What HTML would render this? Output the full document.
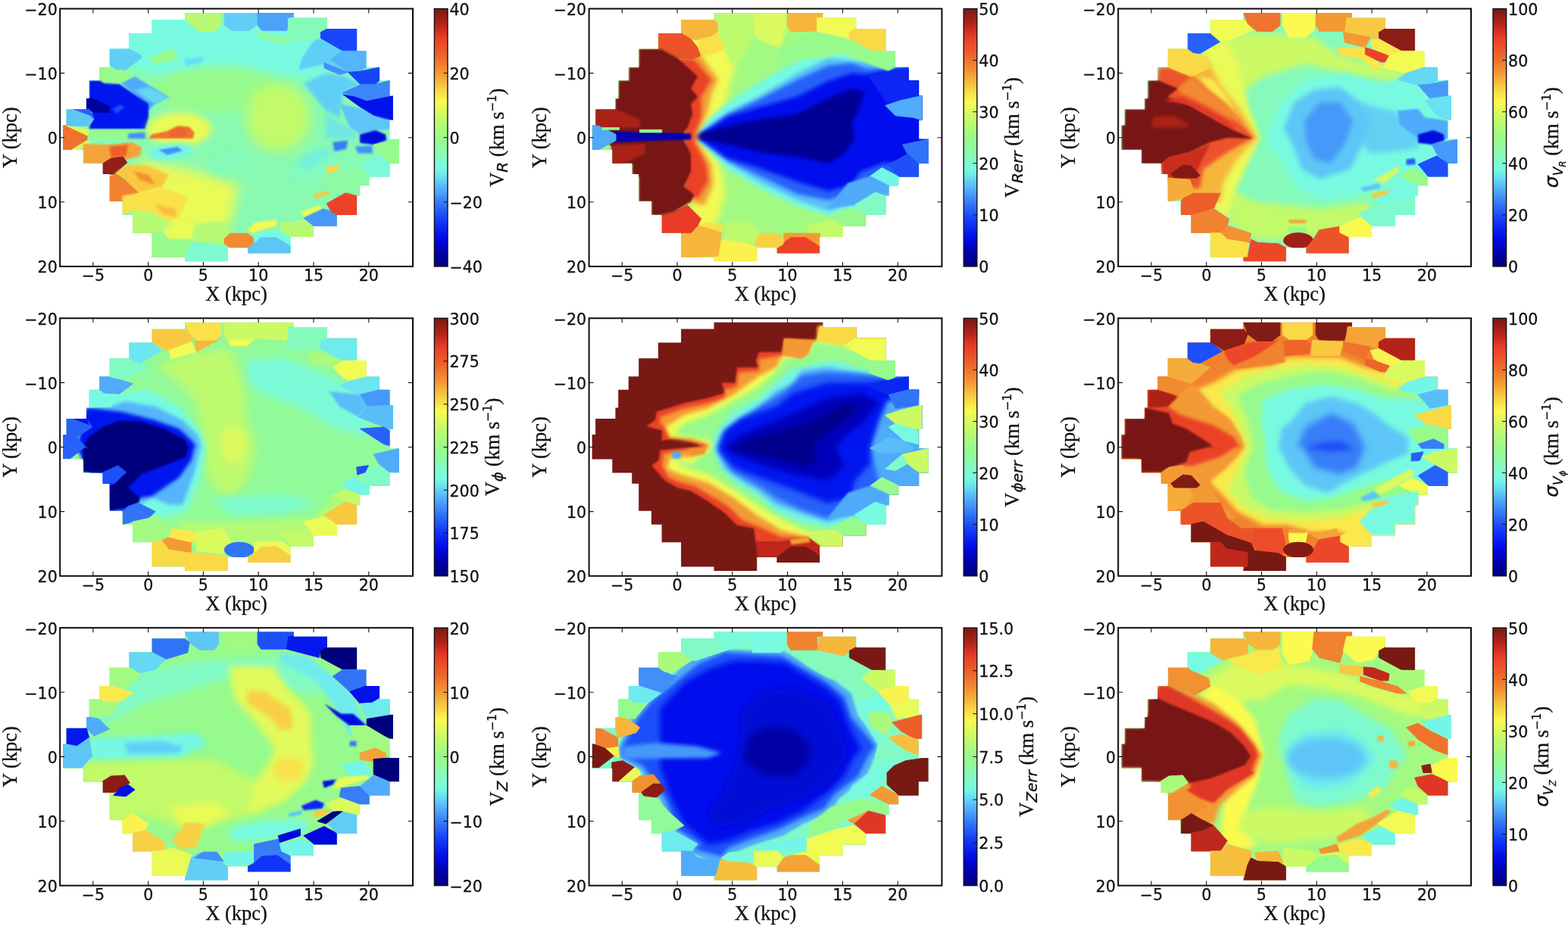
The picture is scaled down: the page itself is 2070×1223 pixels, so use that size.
<!DOCTYPE html>
<html lang="en"><head><meta charset="utf-8"><title>Velocity maps</title>
<style>
html,body{margin:0;padding:0;background:#fff}
body{width:2070px;height:1223px;overflow:hidden}
svg{display:block}
.t{font-family:"DejaVu Sans","Liberation Sans",sans-serif;font-size:20.6px;fill:#111;stroke:#111;stroke-width:0.3px}
.s{font-family:"Liberation Serif","DejaVu Serif",serif;font-size:26.5px;fill:#111;stroke:#111;stroke-width:0.3px}
.sub{font-family:"DejaVu Sans","Liberation Sans",sans-serif;font-style:italic;font-size:20px}
.sup{font-family:"DejaVu Sans","Liberation Sans",sans-serif;font-size:15px}
.sig{font-family:"DejaVu Sans","Liberation Sans",sans-serif;font-style:italic;font-size:25px}
.subv{font-family:"DejaVu Sans","Liberation Sans",sans-serif;font-style:italic;font-size:17px}
.subsub{font-family:"DejaVu Sans","Liberation Sans",sans-serif;font-style:italic;font-size:12px}
</style></head><body>
<svg width="2070" height="1223" viewBox="0 0 2070 1223">
<defs><linearGradient id="jet" x1="0" y1="0" x2="0" y2="1"><stop offset="0%" stop-color="#781914"/><stop offset="2%" stop-color="#8c1c16"/><stop offset="4%" stop-color="#a02017"/><stop offset="6%" stop-color="#b42319"/><stop offset="8%" stop-color="#ca2d1f"/><stop offset="10%" stop-color="#e03725"/><stop offset="12%" stop-color="#eb4228"/><stop offset="14%" stop-color="#ec4d29"/><stop offset="16%" stop-color="#ed5929"/><stop offset="18%" stop-color="#ee642a"/><stop offset="20%" stop-color="#ef732d"/><stop offset="22%" stop-color="#f1822f"/><stop offset="24%" stop-color="#f29132"/><stop offset="26%" stop-color="#f4a337"/><stop offset="28%" stop-color="#f6b63c"/><stop offset="30%" stop-color="#f8c841"/><stop offset="32%" stop-color="#f9d946"/><stop offset="34%" stop-color="#f9e94b"/><stop offset="36%" stop-color="#fafa50"/><stop offset="38%" stop-color="#eafa57"/><stop offset="40%" stop-color="#dbfa5e"/><stop offset="42%" stop-color="#cbfa65"/><stop offset="44%" stop-color="#bdfa6e"/><stop offset="46%" stop-color="#b2fa77"/><stop offset="48%" stop-color="#a6fa81"/><stop offset="50%" stop-color="#9bfa8a"/><stop offset="52%" stop-color="#95fa95"/><stop offset="54%" stop-color="#8ffaa0"/><stop offset="56%" stop-color="#88fab2"/><stop offset="58%" stop-color="#82fac3"/><stop offset="60%" stop-color="#7efad2"/><stop offset="62%" stop-color="#79fae0"/><stop offset="64%" stop-color="#70ecea"/><stop offset="66%" stop-color="#66daf3"/><stop offset="68%" stop-color="#5cc4f6"/><stop offset="70%" stop-color="#52affa"/><stop offset="72%" stop-color="#479bf9"/><stop offset="74%" stop-color="#3c87f8"/><stop offset="76%" stop-color="#3274f8"/><stop offset="78%" stop-color="#2861f9"/><stop offset="80%" stop-color="#1e4ff9"/><stop offset="82%" stop-color="#143cfa"/><stop offset="84%" stop-color="#0e2ef6"/><stop offset="86%" stop-color="#091ff1"/><stop offset="88%" stop-color="#0311ed"/><stop offset="90%" stop-color="#0008df"/><stop offset="92%" stop-color="#0005c8"/><stop offset="94%" stop-color="#0002b1"/><stop offset="96%" stop-color="#00009d"/><stop offset="98%" stop-color="#00008d"/><stop offset="100%" stop-color="#00007d"/></linearGradient><filter id="b0_8" x="-100%" y="-100%" width="300%" height="300%"><feGaussianBlur stdDeviation="0.8"/></filter><filter id="b1" x="-100%" y="-100%" width="300%" height="300%"><feGaussianBlur stdDeviation="1"/></filter><filter id="b1_2" x="-100%" y="-100%" width="300%" height="300%"><feGaussianBlur stdDeviation="1.2"/></filter><filter id="b1_5" x="-100%" y="-100%" width="300%" height="300%"><feGaussianBlur stdDeviation="1.5"/></filter><filter id="b2" x="-100%" y="-100%" width="300%" height="300%"><feGaussianBlur stdDeviation="2"/></filter><filter id="b2_5" x="-100%" y="-100%" width="300%" height="300%"><feGaussianBlur stdDeviation="2.5"/></filter><filter id="b3" x="-100%" y="-100%" width="300%" height="300%"><feGaussianBlur stdDeviation="3"/></filter><filter id="b4" x="-100%" y="-100%" width="300%" height="300%"><feGaussianBlur stdDeviation="4"/></filter><filter id="b5" x="-100%" y="-100%" width="300%" height="300%"><feGaussianBlur stdDeviation="5"/></filter><filter id="b6" x="-100%" y="-100%" width="300%" height="300%"><feGaussianBlur stdDeviation="6"/></filter><filter id="b8" x="-100%" y="-100%" width="300%" height="300%"><feGaussianBlur stdDeviation="8"/></filter></defs>
<rect width="2070" height="1223" fill="#fff"/>
<g>
<clipPath id="c0"><polygon points="83.1,165.3 87.6,165.3 87.6,144.3 113.9,144.3 113.9,129.9 117.7,129.9 117.7,106.2 131.2,106.2 131.2,88.7 144.7,88.7 144.7,64.6 170.4,64.6 170.4,43.9 200.6,43.9 200.6,25.9 244,25.9 244,17.1 387.9,17.1 387.9,23.6 432,23.6 432,38 471.2,38 471.2,67.3 483.5,67.3 483.5,88.7 501.1,88.7 501.1,106.2 514.6,106.2 514.6,126.5 518.9,126.5 518.9,158.5 514.6,158.5 514.6,183.7 527,183.7 527,215.9 514.6,215.9 514.6,233.5 487.6,233.5 487.6,245.2 475.2,245.2 475.2,258.7 471.2,258.7 471.2,284.1 444.8,284.1 444.8,298.7 414,298.7 414,313.1 383.6,313.1 383.6,334.5 327.1,334.5 327.1,327.3 300.8,327.3 300.8,345.3 244,345.3 244,339.9 200.6,339.9 200.6,307.7 175.1,307.7 175.1,284.1 161.4,284.1 161.4,266.1 144.7,266.1 144.7,230.1 135.7,230.1 135.7,215.9 109.8,215.9 109.8,197.9 83.1,197.9"/></clipPath>
<g clip-path="url(#c0)" stroke-width="0.9" stroke-linejoin="round">
<polygon points="80,12 545,12 545,352 80,352" fill="#88fab2" stroke="#88fab2"/>
<polygon points="169,24.5 439.2,24.5 461.7,78.5 416.7,105.6 304.1,85.3 214.1,101 146.5,78.5" fill="#78fae1" filter="url(#b5)"/>
<ellipse cx="281.6" cy="119.1" rx="85.5" ry="29.3" fill="#96fa8c" filter="url(#b6)"/>
<ellipse cx="367.2" cy="155.1" rx="42.8" ry="45" fill="#c3fa69" filter="url(#b8)"/>
<polygon points="244,17.1 291.7,17.1 291.7,34.6 282.7,41.4 263.6,41.4 250.1,32.4 244,25.9" fill="#b6fa73" stroke="#b6fa73"/>
<polygon points="296.2,17.1 340.1,17.1 340.1,32.4 328.9,40.3 306.4,40.3 296.2,33.5" fill="#61cff5" stroke="#61cff5"/>
<polygon points="340.1,17.1 387.9,17.1 387.9,23.6 379.5,23.6 379.5,40.3 345.8,40.3 340.1,33.5" fill="#4ba2f9" stroke="#4ba2f9"/>
<polygon points="382.9,23.6 432,23.6 432,38 421.2,51.5 394.2,53.8 378.4,49.3 379.5,40.3" fill="#85fabb" stroke="#85fabb"/>
<polygon points="335.6,40.3 378.4,49.3 394.2,53.8 371.7,58.3 344.6,51.5" fill="#8dfaa5" filter="url(#b1)"/>
<polygon points="200.6,25.9 244,25.9 250.1,32.4 247.8,44.8 218.6,56 200.6,47" fill="#78fae1" stroke="#78fae1"/>
<polygon points="170.4,43.9 200.6,43.9 218.6,56 205.1,69.5 184.8,71.8 170.4,64.6" fill="#78fae1" stroke="#78fae1"/>
<polygon points="144.7,64.6 170.4,64.6 184.8,71.8 187.1,76.3 164.5,93.2 153.3,92 144.7,85.3" fill="#61cff5" stroke="#61cff5"/>
<polygon points="131.2,88.7 144.7,88.7 153.3,92 164.5,93.2 175.8,101 157.8,111.2 137.5,110.1 131.2,105.6" fill="#96fa8c" stroke="#96fa8c"/>
<polygon points="196.1,76.3 227.6,63.9 236.6,78.5 205.1,85.3" fill="#96fa8c" filter="url(#b1_5)"/>
<polygon points="243.3,77.4 270.4,75.2 265.9,83 245.6,87.5" fill="#69e1f2" filter="url(#b1)"/>
<polygon points="414.4,53.8 423.4,50.4 452.7,67.3 483.5,67.3 483.5,88.7 466.2,96.5 427.9,85.3 394.2,92 398.7,76.3" fill="#61cff5" filter="url(#b1)"/>
<polygon points="432,38 471.2,38 471.2,67.3 452.7,67.3 423.4,50.4 423.4,42.5" fill="#1945fa" stroke="#1945fa"/>
<polygon points="436.9,78.5 452.7,67.3 483.5,67.3 483.5,88.7 475.2,94.3 459.5,95.4" fill="#55b4fa" stroke="#55b4fa"/>
<polygon points="427.9,83 459.5,95.4 448.2,98.8 427.9,89.8" fill="#418ff9" stroke="#418ff9"/>
<polygon points="459.5,95.4 475.2,94.3 501.1,88.7 501.1,106.2 495.5,111.2 475.2,111.2" fill="#1945fa" stroke="#1945fa"/>
<polygon points="400.9,110.1 430.2,96.5 457.2,101 475.2,112.3 452.7,123.6 448.2,155.1 430.2,146.1" fill="#61cff5" filter="url(#b2)"/>
<polygon points="452.7,122.4 475.2,112.3 495.5,111.2 514.6,106.2 514.6,126.5 484.2,133.7 468.5,128.1" fill="#3c86f8" stroke="#3c86f8"/>
<polygon points="452.7,124.7 468.5,128.1 484.2,133.7 518.9,126.5 518.9,158.5 506.7,157.3 493.2,152.8 477.5,142.7" fill="#0311ed" stroke="#0311ed"/>
<polygon points="448.2,137.1 477.5,143.8 493.2,152.8 514.6,158.5 514.6,170.8 495.5,172 475.2,176.5 461.7,168.6" fill="#5dc6f7" filter="url(#b1)"/>
<polygon points="430.2,150.6 461.7,168.6 475.2,183 430.2,183" fill="#69e1f2" filter="url(#b3)" opacity="0.8"/>
<polygon points="160,110.1 178.1,101 196.1,112.3 223.1,128.1 205.1,137.1 196.1,146.1 182.6,128.1" fill="#50abfa" filter="url(#b1)"/>
<polygon points="117.7,106.2 131.2,106.2 137.5,110.1 157.8,111.2 182.6,128.1 196.1,137.1 196.1,155.1 191.6,170.8 117.7,170.8 121.8,146.1 113.9,129.9 117.7,129.9" fill="#0618ef" filter="url(#b0_8)"/>
<polygon points="113.9,129.9 121.8,129.9 144.3,140.4 144.3,148.3 124,148.3 113.9,143.8" fill="#00009d" stroke="#00009d"/>
<polygon points="148.8,143.8 157.8,138.2 164.5,141.6 153.3,150.6" fill="#1e4ff9" filter="url(#b1)"/>
<polygon points="87.6,144.3 97,144.3 117.7,151.7 124,157.3 117.7,166.3 87.6,166.3" fill="#5dc6f7" stroke="#5dc6f7"/>
<polygon points="97,144.3 117.7,144.3 124,155.1 117.7,151.7" fill="#2861f9" stroke="#2861f9"/>
<polygon points="178.1,119.1 196.1,114.6 223.1,128.1 205.1,137.1 196.1,132.6" fill="#69e1f2" filter="url(#b1_5)" opacity="0.8"/>
<polygon points="117.7,170.8 191.6,170.8 193.8,183 117.7,183" fill="#96fa8c" filter="url(#b1)"/>
<polygon points="169,176.5 191.6,174.2 192.7,183 169,183" fill="#418ff9" filter="url(#b1_5)"/>
<ellipse cx="236.6" cy="170.8" rx="42.8" ry="22.5" fill="#eafa57" filter="url(#b5)"/>
<polygon points="196.1,183 200.6,177.6 220.8,173.1 234.3,166.3 250.1,167.5 256.8,175.3 254.6,183" fill="#ef732d" filter="url(#b1_2)"/>
<polygon points="223.1,174.2 236.6,168.6 247.8,170.8 245.6,179.8 225.3,181" fill="#ee642a" filter="url(#b1)"/>
<polygon points="83.1,165.2 88,166.3 115,178.7 115,185.5 92.5,199 83.1,199" fill="#ef732d" stroke="#ef732d"/>
<polygon points="88,166.3 117.7,171.3 117.7,176.5 115,178.7" fill="#dbfa5e" stroke="#dbfa5e"/>
<polygon points="115,185.5 117.7,186.6 117.7,191.1 101.5,199 92.5,199" fill="#dbfa5e" stroke="#dbfa5e"/>
<polygon points="475.2,177.6 495.5,172 509,177.6 510.1,185.5 493.2,191.1 475.2,188.8" fill="#0008df" filter="url(#b0_8)"/>
<polygon points="187.1,210.3 259.1,226 315.4,244 304.1,298.1 236.6,307.1 187.1,289.1 169,248.5" fill="#eafa57" filter="url(#b8)"/>
<ellipse cx="304.1" cy="214.8" rx="29.3" ry="15.8" transform="rotate(-20 304.1 214.8)" fill="#85fabb" filter="url(#b5)" opacity="0.8"/>
<ellipse cx="416.7" cy="221.5" rx="33.8" ry="13.5" transform="rotate(-20 416.7 221.5)" fill="#82fac5" filter="url(#b5)" opacity="0.8"/>
<ellipse cx="225.3" cy="200.1" rx="29.3" ry="10.1" transform="rotate(-8 225.3 200.1)" fill="#73f5e8" filter="url(#b3)"/>
<polygon points="209.6,197.9 234.3,194.1 241.1,199 220.8,204.6" fill="#418ff9" filter="url(#b1_2)"/>
<polygon points="109.8,190 146.5,191.1 173.6,187.8 187.1,194.5 184.8,205.8 169,210.3 135.3,215.9 109.8,215.9" fill="#f4a337" filter="url(#b0_8)"/>
<polygon points="144.3,193.4 169,191.1 166.8,205.8 146.5,208" fill="#ee5e2a" filter="url(#b1_5)"/>
<polygon points="135.7,215.9 146.5,209.1 162.3,206.9 167.9,214.8 151,230.1 135.7,230.1" fill="#961e16" stroke="#961e16"/>
<polygon points="151,229.4 169,217 196.1,219.3 223.1,230.5 214.1,246.3 182.6,255.3 164.5,237.3" fill="#f8c841" filter="url(#b1_5)"/>
<polygon points="175.8,226 196.1,230.5 205.1,244 184.8,237.3" fill="#f29132" filter="url(#b1_5)"/>
<polygon points="144.7,233.9 153.3,229.4 164.5,237.3 182.6,254.2 162.3,266.1 144.7,266.1" fill="#f1822f" stroke="#f1822f"/>
<polygon points="161.4,258.7 187.1,254.2 214.1,248.5 247.8,259.8 236.6,286.8 223.1,292.4 200.6,280.1 175.1,277.8 161.4,284.1" fill="#f9e148" filter="url(#b1)"/>
<polygon points="205.1,269.9 232.1,275.6 232.1,286.8 214.1,282.3" fill="#f7bf3e" filter="url(#b1_5)"/>
<polygon points="175.1,280.1 200.6,280.1 223.1,293.6 209.6,307.1 200.6,307.7 175.1,307.7" fill="#b6fa73" stroke="#b6fa73"/>
<polygon points="214.1,304.8 236.6,293.6 263.6,293.6 254.6,316.1 223.1,316.1" fill="#eafa57" filter="url(#b1_5)"/>
<polygon points="200.6,307.7 209.6,307.1 223.1,316.1 252.3,318.3 252.3,339.9 200.6,339.9" fill="#96fa8c" stroke="#96fa8c"/>
<polygon points="244,339.9 252.3,320.6 296.2,325.1 300.7,329.6 300.7,345.3 244,345.3" fill="#7eface" stroke="#7eface"/>
<polygon points="256.8,295.8 295.1,293.6 304.1,307.1 296.2,322.8 252.3,318.3" fill="#b6fa73" filter="url(#b1)"/>
<polygon points="296.2,314.9 304.1,308.2 326.6,308.2 335.6,314.9 334.5,322.8 326.6,327.3 304.1,327.3 296.2,321.7" fill="#f18a31" stroke="#f18a31"/>
<polygon points="335.6,313.8 344.6,307.1 371.7,304.8 383.6,313.8 383.6,325.1 364.9,313.8 344.6,313.8 335.6,322.8" fill="#78fae1" stroke="#78fae1"/>
<polygon points="327.1,327.3 335.6,321.7 344.6,313.8 364.9,313.8 383.6,325.1 383.6,334.5 327.1,334.5" fill="#5dc6f7" stroke="#5dc6f7"/>
<polygon points="326.6,302.6 337.9,293.6 364.9,290.2 366,298.1 344.6,303.7 333.4,308.2" fill="#f2fa54" filter="url(#b1)"/>
<polygon points="369.4,294.7 400.9,291.3 414,298.1 414,313.1 383.6,313.1 371.7,304.8" fill="#b6fa73" stroke="#b6fa73"/>
<polygon points="400.9,287.9 425.7,275.6 436.9,278.9 444.8,284.6 444.8,298.7 414.4,298.7" fill="#4699f9" stroke="#4699f9"/>
<polygon points="396.4,280.1 421.2,271 425.7,275.6 400.9,286.8" fill="#eafa57" filter="url(#b1)"/>
<polygon points="431.3,268.8 457.2,254.2 471.2,258.7 471.2,284.1 444.8,284.1 436.9,278.9" fill="#eb4228" stroke="#eb4228"/>
<polygon points="414.4,256.4 436.9,251.2 434.7,256.4 415.6,262.5" fill="#f8c841" filter="url(#b1)"/>
<polygon points="430.2,220.4 448.2,218.1 446,226 432.4,230.1" fill="#f9d946" filter="url(#b1_5)"/>
<polygon points="493.2,191.1 527,183.7 527,215.9 514.6,215.9 500,203.5" fill="#96fa8c" stroke="#96fa8c"/>
<polygon points="475.2,217 500,203.5 514.6,215.9 514.6,233.5 487.6,233.5" fill="#7bfad8" stroke="#7bfad8"/>
<polygon points="416.7,235 475.2,219.3 487.6,233.5 487.6,245.2 475.2,245.2 475.2,258.7 457.2,254.2 436.9,250.8" fill="#8dfaa5" filter="url(#b1)"/>
<polygon points="439.2,187.8 459.5,185.5 457.2,196.8 441.4,200.1" fill="#377df8" filter="url(#b1_5)"/>
<polygon points="468.5,193.4 491,192.3 492.1,202.4 473,202.4" fill="#418ff9" filter="url(#b1_5)"/>
<polygon points="389.7,217 405.4,203.5 430.2,194.5 439.2,203.5 405.4,223.8" fill="#6eebed" filter="url(#b3)" opacity="0.7"/>
</g>
<path d="M122.9 351.9v-6M122.9 11.5v6M195.7 351.9v-6M195.7 11.5v6M268.4 351.9v-6M268.4 11.5v6M341.2 351.9v-6M341.2 11.5v6M414 351.9v-6M414 11.5v6M486.8 351.9v-6M486.8 11.5v6M79.2 96.6h6M545 96.6h-6M79.2 181.7h6M545 181.7h-6M79.2 266.8h6M545 266.8h-6" stroke="#111" stroke-width="1.1" fill="none"/>
<rect x="79.2" y="11.5" width="465.8" height="340.4" fill="none" stroke="#0a0a0a" stroke-width="2"/>
<text class="t" x="122.9" y="371.2" text-anchor="middle">−5</text>
<text class="t" x="195.7" y="371.2" text-anchor="middle">0</text>
<text class="t" x="268.4" y="371.2" text-anchor="middle">5</text>
<text class="t" x="341.2" y="371.2" text-anchor="middle">10</text>
<text class="t" x="414" y="371.2" text-anchor="middle">15</text>
<text class="t" x="486.8" y="371.2" text-anchor="middle">20</text>
<text class="t" x="75.8" y="20" text-anchor="end">−20</text>
<text class="t" x="75.8" y="105.1" text-anchor="end">−10</text>
<text class="t" x="75.8" y="190.2" text-anchor="end">0</text>
<text class="t" x="75.8" y="275.3" text-anchor="end">10</text>
<text class="t" x="75.8" y="360.4" text-anchor="end">20</text>
<text class="s" x="312.1" y="397.4" text-anchor="middle">X (kpc)</text>
<text class="s" transform="translate(22.2 181.7) rotate(-90)" text-anchor="middle">Y (kpc)</text>
<rect x="573.4" y="11.5" width="17.6" height="340.4" fill="url(#jet)" stroke="#111" stroke-width="1.4"/>
<text class="t" x="593.5" y="19.8">40</text>
<text class="t" x="593.5" y="104.9">20</text>
<text class="t" x="593.5" y="190">0</text>
<text class="t" x="593.5" y="275.1">−20</text>
<text class="t" x="593.5" y="360.2">−40</text>
<path d="M591 96.6h-5.5M591 181.7h-5.5M591 266.8h-5.5" stroke="#111" stroke-width="1" fill="none"/>
<text class="s" transform="translate(664.7 181.7) rotate(-90)" text-anchor="middle">V<tspan class="sub" dy="5">R</tspan><tspan dy="-5"> (km s</tspan><tspan class="sup" dy="-10">−1</tspan><tspan dy="10">)</tspan></text>
</g>
<g>
<clipPath id="c1"><polygon points="781.6,165.3 786.1,165.3 786.1,144.3 812.4,144.3 812.4,129.9 816.2,129.9 816.2,106.2 829.7,106.2 829.7,88.7 843.2,88.7 843.2,64.6 868.9,64.6 868.9,43.9 899.1,43.9 899.1,25.9 942.5,25.9 942.5,17.1 1086.4,17.1 1086.4,23.6 1130.5,23.6 1130.5,38 1169.7,38 1169.7,67.3 1182,67.3 1182,88.7 1199.6,88.7 1199.6,106.2 1213.1,106.2 1213.1,126.5 1217.4,126.5 1217.4,158.5 1213.1,158.5 1213.1,183.7 1225.5,183.7 1225.5,215.9 1213.1,215.9 1213.1,233.5 1186.1,233.5 1186.1,245.2 1173.7,245.2 1173.7,258.7 1169.7,258.7 1169.7,284.1 1143.3,284.1 1143.3,298.7 1112.5,298.7 1112.5,313.1 1082.1,313.1 1082.1,334.5 1025.6,334.5 1025.6,327.3 999.3,327.3 999.3,345.3 942.5,345.3 942.5,339.9 899.1,339.9 899.1,307.7 873.6,307.7 873.6,284.1 859.9,284.1 859.9,266.1 843.2,266.1 843.2,230.1 834.2,230.1 834.2,215.9 808.3,215.9 808.3,197.9 781.6,197.9"/></clipPath>
<g clip-path="url(#c1)" stroke-width="0.9" stroke-linejoin="round">
<polygon points="777,12 1244,12 1244,352 777,352" fill="#a3fa82" stroke="#a3fa82"/>
<polygon points="912.1,44.8 952.6,42.5 970.6,85.3 957.1,137.1 939.1,168.6 939.1,190 952.6,226 957.1,257.5 948.1,289 934.6,307 912.1,307 912.1,168.6" fill="#f2fa54" filter="url(#b4)"/>
<polygon points="993.1,17.1 1038.1,17.1 1038.1,40.3 1029.1,62.8 1002.1,53.8 995.4,44.8" fill="#dbfa5e" filter="url(#b1_5)"/>
<polygon points="942.9,17.1 993.1,17.1 995.4,44.8 979.6,78.5 963.9,85.3 957.1,65 947.4,42.5" fill="#bdfa6e" filter="url(#b1_5)"/>
<polygon points="911.8,180.6 940.4,152 960.9,135.6 1001.8,109.1 1052.9,78.4 1093.8,70.2 1144.9,72.3 1226.7,72.3 1226.7,284.9 1114.2,276.7 1093.8,284.9 1052.9,272.6 1001.8,248.1 960.9,223.6 930.2,194.9" fill="#76f8e4" filter="url(#b2_5)"/>
<polygon points="915.9,180.6 960.9,147.9 1001.8,127.5 1052.9,96.8 1093.8,76.4 1124.5,80.4 1226.7,80.4 1226.7,264.5 1171.5,256.3 1124.5,268.5 1093.8,278.8 1052.9,264.5 1001.8,239.9 960.9,215.4" fill="#59bdf8" filter="url(#b2_5)"/>
<polygon points="920,180.6 960.9,151 1001.8,131.6 1052.9,105 1093.8,86.6 1124.5,83.5 1144.9,90.7 1226.7,90.7 1226.7,244 1144.9,244 1124.5,256.3 1093.8,264.5 1052.9,256.3 1001.8,231.7 960.9,212.3" fill="#2861f9" filter="url(#b2_5)"/>
<polygon points="920,180.6 960.9,154.1 1001.8,141.8 1052.9,127.5 1093.8,107 1124.5,96.8 1144.9,98.8 1175.6,90.7 1226.7,89.6 1226.7,215.4 1165.3,215.4 1134.7,227.7 1124.5,244 1093.8,252.2 1052.9,239.9 1001.8,221.5 960.9,209.3" fill="#0311ed" filter="url(#b2_5)"/>
<polygon points="817.8,178.2 920,177.6 960.9,166.3 1001.8,158.1 1052.9,150 1093.8,129.5 1124.5,117.2 1140.8,121.3 1134.7,141.8 1124.5,162.2 1128.5,182.7 1114.2,203.1 1093.8,215.4 1052.9,207.2 1001.8,201.1 960.9,190.9 920,182.7 817.8,183.1" fill="#000095" filter="url(#b2_5)"/>
<polygon points="1039.3,17.1 1086.1,17.1 1086.1,23.6 1078.7,23.6 1078.7,41.4 1043.8,41.4 1039.3,33.5" fill="#f6b63c" stroke="#f6b63c"/>
<polygon points="1078.7,23.6 1129.5,23.6 1129.5,38 1121.4,42.5 1121.4,51.5 1078.7,41.4" fill="#f2fa54" stroke="#f2fa54"/>
<polygon points="1121.4,42.5 1129.5,38 1168.7,38 1168.7,67.3 1150.7,67.3 1121.4,51.5" fill="#f9d946" stroke="#f9d946"/>
<polygon points="1103.4,67.3 1121.4,52.6 1150.7,67.3 1182.2,67.3 1182.2,88.7 1173.2,94.3 1146.2,84.2" fill="#96fa8c" filter="url(#b1)"/>
<polygon points="1031.4,62.8 1074.2,42.5 1121.4,52.6 1103.4,67.3 1096.7,75.2 1058.4,77.4 1024.6,94.3" fill="#96fa8c" filter="url(#b2)"/>
<polygon points="899.2,25.9 942.9,25.9 947.4,31.3 947.4,42.5 939.1,48.1 921.1,52.6 912.1,51.5 899.2,43.9" fill="#f6b63c" stroke="#f6b63c"/>
<polygon points="921.1,52.6 939.1,48.1 947.4,42.5 957.1,65 934.6,74 924.5,71.8" fill="#f9e148" filter="url(#b1)"/>
<polygon points="1146.2,101 1173.2,94.3 1199.8,88.7 1199.8,106.2 1212.2,106.2 1212.2,128.1 1171,137.1" fill="#0b27f4" filter="url(#b1)"/>
<polygon points="1168.7,139.3 1189,132.6 1216.9,126.5 1216.9,158.5 1204.7,155.1 1182.2,152.8" fill="#50abfa" stroke="#50abfa"/>
<polygon points="1191.2,191.1 1226.1,183.7 1226.1,215.9 1212.2,215.9 1198,203.5" fill="#3274f8" stroke="#3274f8"/>
<polygon points="1173.2,217 1198,203.5 1212.2,215.9 1212.2,233.4 1186.7,233.4" fill="#1e4ff9" stroke="#1e4ff9"/>
<polygon points="1148.5,232.7 1164.2,221.5 1186.7,233.4 1186.7,245.1 1173.2,245.1" fill="#73f5e8" stroke="#73f5e8"/>
<polygon points="1119.2,241.8 1148.5,232.7 1173.2,245.1 1173.2,258.6 1155.2,254.1 1128.2,271 1092.2,275.5" fill="#50abfa" filter="url(#b1)"/>
<polygon points="1128.2,271 1155.2,254.1 1168.7,258.6 1168.7,284.1 1142.8,284.1" fill="#82fac5" stroke="#82fac5"/>
<polygon points="1098.9,286.8 1125.9,274.4 1142.8,284.5 1142.8,298.7 1112.9,298.7" fill="#96fa8c" stroke="#96fa8c"/>
<polygon points="1065.2,298 1096.7,290.2 1112.9,298 1112.9,313.1 1082.5,313.1 1067.4,307" fill="#c3fa69" stroke="#c3fa69"/>
<polygon points="1034.8,308.2 1082.5,308.2 1082.5,326.2 1064,313.8 1043.8,313.8 1034.8,320.5" fill="#f39a34" stroke="#f39a34"/>
<polygon points="1025.8,327.3 1033.6,321.7 1043.8,313.8 1064,313.8 1082.5,326.2 1082.5,334.5 1025.8,334.5" fill="#eb4228" stroke="#eb4228"/>
<polygon points="995.4,314.9 1003.2,308.2 1025.8,308.2 1034.8,314.9 1033.6,322.8 1025.8,327.3 1003.2,327.3 995.4,321.7" fill="#f8d044" stroke="#f8d044"/>
<polygon points="942.9,339.9 950.3,320.5 957.1,316 988.6,321.7 999.9,327.3 999.9,345.3 942.9,345.3" fill="#faf24e" stroke="#faf24e"/>
<polygon points="957.1,293.5 993.1,293.5 1002.1,307 995.4,322.8 957.1,316" fill="#bdfa6e" filter="url(#b1)"/>
<polygon points="921.1,298 934.6,293.5 957.1,298 952.6,307 950.3,320.5" fill="#f9e148" filter="url(#b1)"/>
<polygon points="899.2,307.7 912.1,307.7 921.1,298 952.6,307 948.1,338.6 899.2,339.9" fill="#f6b63c" stroke="#f6b63c"/>
<polygon points="903.1,78.5 921.1,67.3 948.1,105.6 939.1,123.6 934.6,146.1 921.1,177.6 921.1,187.7 939.1,217 941.3,244 930.1,271 912.1,266.5 912.1,146.1 921.1,123.6" fill="#f39a34" filter="url(#b3)"/>
<polygon points="894.1,76.3 916.6,78.5 939.1,105.6 925.6,128.1 925.6,155.1 916.6,177.6 916.6,187.7 932.3,217 934.6,239.5 921.1,262 903.1,255.3 903.1,146.1" fill="#eb4228" filter="url(#b2_5)"/>
<polygon points="869.3,43.9 899.2,43.9 912.1,51.5 921.1,62.8 924.5,74 912.1,78.5 894.1,76.3 873.8,65 869.3,64.6" fill="#ed5329" stroke="#ed5329"/>
<polygon points="873.8,284.1 889.6,280 907.6,271 925.6,289 921.1,298 912.1,307.7 873.8,307.7" fill="#eb3c28" stroke="#eb3c28"/>
<polygon points="786.2,144.3 812.3,144.3 812.3,129.9 816.8,129.9 816.8,106.2 830.4,106.2 830.4,88.7 843.6,88.7 843.6,64.6 869.3,64.6 873.8,65 894.1,76.3 921.1,101 912.1,116.8 921.1,128.1 912.1,137.1 914.3,150.6 907.6,168.6 903.1,174.2 903.1,185.5 912.1,203.5 912.1,226 903.1,246.3 916.6,257.5 912.1,266.5 889.6,280 873.8,284.1 860.3,284.1 860.3,266.1 843.6,266.1 843.6,233.9 834.9,230 834.9,215.9 807.8,215.9 807.8,194.5 786.2,168.6" fill="#781914" filter="url(#b1)"/>
<polygon points="786.2,144.3 812.3,144.3 844.5,157.3 844.5,168.6 786.2,168.6" fill="#aa2118" filter="url(#b1_5)"/>
<polygon points="807.8,192.2 851.3,190 851.3,203.5 822,215.9 807.8,215.9" fill="#aa2118" filter="url(#b1_5)"/>
<polygon points="810.8,173.5 912.1,176.5 912.1,184.3 810.8,187.7" fill="#0002b1" filter="url(#b1)"/>
<polygon points="782,165.2 790.5,166.3 813,177.6 813,185.5 790.5,197.9 782,197.9" fill="#50abfa" stroke="#50abfa"/>
<polygon points="795,168.6 817.5,168.6 817.5,171.3 795,171.3" fill="#96fa8c" stroke="#96fa8c"/>
<polygon points="844.5,171.3 873.8,171.3 873.8,174.9 844.5,174.9" fill="#96fa8c" stroke="#96fa8c"/>
</g>
<path d="M821.3 351.9v-6M821.3 11.5v6M894.1 351.9v-6M894.1 11.5v6M966.8 351.9v-6M966.8 11.5v6M1039.6 351.9v-6M1039.6 11.5v6M1112.4 351.9v-6M1112.4 11.5v6M1185.2 351.9v-6M1185.2 11.5v6M777.6 96.6h6M1243.4 96.6h-6M777.6 181.7h6M1243.4 181.7h-6M777.6 266.8h6M1243.4 266.8h-6" stroke="#111" stroke-width="1.1" fill="none"/>
<rect x="777.6" y="11.5" width="465.8" height="340.4" fill="none" stroke="#0a0a0a" stroke-width="2"/>
<text class="t" x="821.3" y="371.2" text-anchor="middle">−5</text>
<text class="t" x="894.1" y="371.2" text-anchor="middle">0</text>
<text class="t" x="966.8" y="371.2" text-anchor="middle">5</text>
<text class="t" x="1039.6" y="371.2" text-anchor="middle">10</text>
<text class="t" x="1112.4" y="371.2" text-anchor="middle">15</text>
<text class="t" x="1185.2" y="371.2" text-anchor="middle">20</text>
<text class="t" x="774.2" y="20" text-anchor="end">−20</text>
<text class="t" x="774.2" y="105.1" text-anchor="end">−10</text>
<text class="t" x="774.2" y="190.2" text-anchor="end">0</text>
<text class="t" x="774.2" y="275.3" text-anchor="end">10</text>
<text class="t" x="774.2" y="360.4" text-anchor="end">20</text>
<text class="s" x="1010.5" y="397.4" text-anchor="middle">X (kpc)</text>
<text class="s" transform="translate(720.6 181.7) rotate(-90)" text-anchor="middle">Y (kpc)</text>
<rect x="1272.2" y="11.5" width="17.6" height="340.4" fill="url(#jet)" stroke="#111" stroke-width="1.4"/>
<text class="t" x="1292.3" y="19.8">50</text>
<text class="t" x="1292.3" y="87.9">40</text>
<text class="t" x="1292.3" y="156">30</text>
<text class="t" x="1292.3" y="224">20</text>
<text class="t" x="1292.3" y="292.1">10</text>
<text class="t" x="1292.3" y="360.2">0</text>
<path d="M1289.8 79.6h-5.5M1289.8 147.7h-5.5M1289.8 215.7h-5.5M1289.8 283.8h-5.5" stroke="#111" stroke-width="1" fill="none"/>
<text class="s" transform="translate(1345.2 181.7) rotate(-90)" text-anchor="middle">V<tspan class="sub" dy="5">Rerr</tspan><tspan dy="-5"> (km s</tspan><tspan class="sup" dy="-10">−1</tspan><tspan dy="10">)</tspan></text>
</g>
<g>
<clipPath id="c2"><polygon points="1480.1,165.3 1484.6,165.3 1484.6,144.3 1510.9,144.3 1510.9,129.9 1514.7,129.9 1514.7,106.2 1528.2,106.2 1528.2,88.7 1541.7,88.7 1541.7,64.6 1567.4,64.6 1567.4,43.9 1597.6,43.9 1597.6,25.9 1641,25.9 1641,17.1 1784.9,17.1 1784.9,23.6 1829,23.6 1829,38 1868.2,38 1868.2,67.3 1880.5,67.3 1880.5,88.7 1898.1,88.7 1898.1,106.2 1911.6,106.2 1911.6,126.5 1915.9,126.5 1915.9,158.5 1911.6,158.5 1911.6,183.7 1924,183.7 1924,215.9 1911.6,215.9 1911.6,233.5 1884.6,233.5 1884.6,245.2 1872.2,245.2 1872.2,258.7 1868.2,258.7 1868.2,284.1 1841.8,284.1 1841.8,298.7 1811,298.7 1811,313.1 1780.6,313.1 1780.6,334.5 1724.1,334.5 1724.1,327.3 1697.8,327.3 1697.8,345.3 1641,345.3 1641,339.9 1597.6,339.9 1597.6,307.7 1572.1,307.7 1572.1,284.1 1558.4,284.1 1558.4,266.1 1541.7,266.1 1541.7,230.1 1532.7,230.1 1532.7,215.9 1506.8,215.9 1506.8,197.9 1480.1,197.9"/></clipPath>
<g clip-path="url(#c2)" stroke-width="0.9" stroke-linejoin="round">
<polygon points="1476,12 1943,12 1943,352 1476,352" fill="#85fabb" stroke="#85fabb"/>
<polygon points="1584.1,56 1656.1,42.5 1734.9,49.3 1768.7,74 1822.7,89.8 1858.7,96.5 1845.2,107.8 1791.2,98.8 1723.6,85.3 1667.4,101 1633.6,128.1 1602.1,112.3" fill="#cbfa65" filter="url(#b4)"/>
<polygon points="1622.3,248.5 1656.1,266.5 1701.1,271 1746.1,275.5 1802.4,266.5 1813.7,282.3 1768.7,307 1701.1,316 1656.1,316 1622.3,293.5" fill="#c3fa69" filter="url(#b4)"/>
<polygon points="1588.6,62.8 1620.1,56 1633.6,85.3 1647.1,137.1 1664,183 1664,181 1642.6,226 1629.1,255.3 1620.1,289 1602.1,275.5 1611.1,183 1588.6,123.6" fill="#eafa57" filter="url(#b3)"/>
<polygon points="1674.4,175.9 1691.3,135.3 1725.1,104.8 1775.8,98.1 1826.5,111.6 1860.4,98.1 1928,98.1 1928,243.5 1809.6,243.5 1792.7,257 1742,263.8 1708.2,243.5 1694.7,216.4 1674.4,189.4" fill="#78fae1" filter="url(#b3)"/>
<polygon points="1694.7,169.1 1708.2,135.3 1735.2,118.4 1769.1,115 1796.1,135.3 1809.6,162.3 1796.1,196.1 1782.6,223.2 1742,236.7 1718.3,223.2 1708.2,196.1" fill="#5dc6f7" filter="url(#b3)"/>
<polygon points="1721.7,158.9 1742,135.3 1769.1,135.3 1786,158.9 1775.8,189.4 1755.5,216.4 1735.2,209.7 1725.1,189.4" fill="#4699f9" filter="url(#b3)"/>
<polygon points="1796.1,135.3 1843.5,148.8 1877.3,175.9 1870.5,196.1 1809.6,202.9 1796.1,189.4" fill="#5dc6f7" filter="url(#b3)" opacity="0.8"/>
<polygon points="1543.5,78.5 1593.1,76.3 1611.1,112.3 1638.1,146.1 1660.6,183 1660.6,181 1633.6,210.2 1615.6,239.5 1611.1,266.5 1575.1,271 1543.5,248.5 1521,183" fill="#f6b63c" filter="url(#b3)"/>
<polygon points="1529.4,88.7 1542.6,88.7 1572.8,101 1593.1,116.8 1611.1,132.6 1633.6,157.3 1656.1,183 1656.1,181 1620.1,201.2 1588.6,223.7 1584.1,248.5 1543.5,248.5 1521,183" fill="#ed5329" filter="url(#b2_5)"/>
<polygon points="1584.1,101 1602.1,105.6 1620.1,128.1 1633.6,155.1 1611.1,132.6 1593.1,116.8" fill="#f9e94b" filter="url(#b2)"/>
<polygon points="1541.7,64.6 1567.4,64.6 1575.1,69.5 1593.1,76.3 1597.6,89.8 1572.8,101 1542.6,88.7" fill="#f9d946" stroke="#f9d946"/>
<polygon points="1568.3,43.9 1598.2,43.9 1611.1,54.9 1584.1,70.7 1575.1,69.5 1568.3,64.6" fill="#2861f9" stroke="#2861f9"/>
<polygon points="1598.2,25.9 1641.9,25.9 1647.1,31.3 1653.8,40.3 1620.1,53.8 1611.1,54.9 1598.2,43.9" fill="#f2fa54" stroke="#f2fa54"/>
<polygon points="1641.9,17.1 1689.9,17.1 1689.9,33.5 1679.7,41.4 1659.5,41.4 1647.1,31.3" fill="#ef732d" stroke="#ef732d"/>
<polygon points="1693.2,17.1 1737.1,17.1 1734.9,40.3 1723.6,49.3 1701.1,49.3 1693.2,33.5" fill="#fafa50" stroke="#fafa50"/>
<polygon points="1737.1,17.1 1784.9,17.1 1784.9,23.6 1777.7,23.6 1777.7,41.4 1741.6,41.4 1737.1,33.5" fill="#f39a34" stroke="#f39a34"/>
<polygon points="1777.7,23.6 1828.5,23.6 1828.5,38 1820.4,42.5 1818.2,51.5 1775.4,42.5" fill="#f8c841" stroke="#f8c841"/>
<polygon points="1773.2,42.5 1809.2,49.3 1802.4,62.8 1775.4,56" fill="#f39a34" stroke="#f39a34"/>
<polygon points="1828.5,38 1867.7,38 1867.7,67.3 1849.7,67.3 1820.4,50.4 1820.4,42.5" fill="#8c1c16" stroke="#8c1c16"/>
<polygon points="1764.2,62.8 1802.4,62.8 1822.7,87.5 1795.7,78.5 1768.7,74" fill="#f9e148" filter="url(#b1)"/>
<polygon points="1809.2,53.8 1820.4,51.5 1849.7,67.3 1833.9,74 1813.7,66.2" fill="#f9e94b" stroke="#f9e94b"/>
<polygon points="1802.4,62.8 1813.7,66.2 1833.9,74 1832.8,81.9 1822.7,81.9 1802.4,71.8" fill="#eb4228" stroke="#eb4228"/>
<polygon points="1833.9,74 1849.7,67.3 1881.2,67.3 1881.2,88.7 1856.5,96.5 1824.9,89.8" fill="#f2fa54" stroke="#f2fa54"/>
<polygon points="1795.7,76.3 1822.7,83 1824.9,89.8 1813.7,92" fill="#f9e94b" filter="url(#b1)"/>
<polygon points="1856.5,96.5 1881.2,88.7 1898.1,88.7 1898.1,106.2 1888,111.2 1872.2,112.3 1845.2,105.6" fill="#65d8f4" stroke="#65d8f4"/>
<polygon points="1872.2,112.3 1888,111.2 1911.6,106.2 1911.6,126.5 1888,130.3" fill="#4699f9" stroke="#4699f9"/>
<polygon points="1881.2,132.6 1888,130.3 1915.9,126.5 1915.9,158.5 1897,152.8" fill="#69e1f2" stroke="#69e1f2"/>
<polygon points="1845.2,146.1 1872.2,143.8 1881.2,155.1 1911.6,159.6 1911.6,183 1872.2,183 1847.5,164.1" fill="#50abfa" filter="url(#b1)"/>
<polygon points="1872.2,177.6 1892.5,172 1906,177.6 1907.1,185.5 1890.2,191.1 1872.2,188.8" fill="#0008df" filter="url(#b0_8)"/>
<polygon points="1554.8,116.8 1572.8,101 1593.1,116.8 1620.1,137.1 1642.6,164.1 1620.1,155.1 1588.6,137.1 1559.3,123.6" fill="#f18a31" filter="url(#b2)"/>
<polygon points="1481,165.2 1485.2,165.2 1485.2,144.3 1511.3,144.3 1511.3,129.9 1515.8,129.9 1515.8,106.2 1529.4,106.2 1543.5,112.3 1554.8,116.8 1541.3,128.1 1570.6,139.3 1602.1,157.3 1633.6,174.2 1653.8,183 1620.1,182.1 1597.6,187.7 1570.6,201.2 1543.5,208 1533.9,215.9 1506.8,215.9 1506.8,197.9 1481,197.9" fill="#781914" filter="url(#b1)"/>
<polygon points="1536.8,132.6 1570.6,138.2 1602.1,156.2 1633.6,174.2 1620.1,159.6 1588.6,141.6 1559.3,128.1" fill="#e03725" filter="url(#b1_5)"/>
<polygon points="1521,155.1 1548,152.8 1570.6,164.1 1566,168.6 1521,168.6" fill="#aa2118" filter="url(#b2)"/>
<polygon points="1533.9,215.9 1543.5,208 1570.6,201.2 1597.6,190 1584.1,217 1575.1,235 1543.5,235 1533.9,230" fill="#ca2d1f" filter="url(#b1)"/>
<polygon points="1545.8,229.4 1561.5,218.1 1572.8,219.2 1584.1,231.6 1579.6,235 1550.3,235" fill="#821b15" stroke="#821b15"/>
<polygon points="1541.7,235 1570.6,237.2 1575.1,248.5 1561.5,262 1541.7,266.1" fill="#f5ac3a" stroke="#f5ac3a"/>
<polygon points="1559.3,266.1 1561.5,262 1575.1,255.3 1611.1,255.3 1602.1,275.5 1588.6,280 1572.8,284.1 1559.3,284.1" fill="#ee5e2a" stroke="#ee5e2a"/>
<polygon points="1572.8,284.1 1588.6,280 1602.1,275.5 1622.3,289 1620.1,298 1611.1,307.7 1572.8,307.7" fill="#f1822f" stroke="#f1822f"/>
<polygon points="1611.1,307.7 1620.1,298 1651.6,308.2 1649.3,320.5 1620.1,316" fill="#f29132" stroke="#f29132"/>
<polygon points="1598.2,307.7 1611.1,307.7 1620.1,316 1647.1,320.5 1647.1,339.9 1598.2,339.9" fill="#f9e148" stroke="#f9e148"/>
<polygon points="1641.9,339.9 1647.1,339.9 1651.6,316 1660.6,320.5 1687.6,321.7 1697.7,327.3 1697.7,345.3 1641.9,345.3" fill="#ec4729" stroke="#ec4729"/>
<polygon points="1701.1,300.3 1725.9,300.3 1723.6,308.2 1702.2,308.2" fill="#96fa8c" stroke="#96fa8c"/>
<polygon points="1701.1,290.2 1724.8,290.2 1723.6,294.7 1702.2,294.7" fill="#f4a337" filter="url(#b0_8)"/>
<ellipse cx="1714" cy="317.6" rx="19.6" ry="10.1" fill="#a02017" stroke="#a02017"/>
<polygon points="1724.8,327.3 1733.8,316 1741.6,303.7 1768.7,299.2 1768.7,307 1781,313.8 1781,334.5 1724.8,334.5" fill="#ed5329" stroke="#ed5329"/>
<polygon points="1768.7,299.2 1791.2,289 1797.9,286.8 1811.9,298 1811.9,313.1 1781,313.1 1768.7,307" fill="#fafa50" stroke="#fafa50"/>
<polygon points="1794.6,280 1824.9,271 1867.7,258.6 1867.7,284.1 1841.8,284.1 1841.8,298.7 1811.9,298.7 1797.9,286.8" fill="#7eface" stroke="#7eface"/>
<polygon points="1824.9,248.5 1872.2,239.5 1872.2,258.6 1867.7,258.6 1827.2,271 1813.7,266.5" fill="#78fae1" filter="url(#b1)"/>
<polygon points="1795.7,248.5 1820.4,241.8 1822.7,248.5 1800.2,253" fill="#5dc6f7" filter="url(#b1)"/>
<polygon points="1811.4,255.3 1833.9,251.2 1831.7,256.4 1812.6,262.5" fill="#f8c841" filter="url(#b1)"/>
<polygon points="1813.7,237.2 1836.2,226 1845.2,219.2 1847.5,226 1827.2,241.8" fill="#dbfa5e" filter="url(#b1_5)"/>
<polygon points="1847.5,232.7 1863.2,221.5 1885.7,233.4 1885.7,245.1 1872.2,245.1" fill="#96fa8c" stroke="#96fa8c"/>
<polygon points="1890.2,191.1 1925.1,183.7 1925.1,215.9 1911.2,215.9 1897,203.5" fill="#4699f9" stroke="#4699f9"/>
<polygon points="1872.2,217 1897,205.7 1911.2,215.9 1911.2,233.4 1885.7,233.4" fill="#1e4ff9" stroke="#1e4ff9"/>
<polygon points="1856.5,210.2 1867.7,209.1 1868.8,217 1856.5,218.1" fill="#2861f9" filter="url(#b0_8)"/>
</g>
<path d="M1519.9 351.9v-6M1519.9 11.5v6M1592.7 351.9v-6M1592.7 11.5v6M1665.4 351.9v-6M1665.4 11.5v6M1738.2 351.9v-6M1738.2 11.5v6M1811 351.9v-6M1811 11.5v6M1883.8 351.9v-6M1883.8 11.5v6M1476.2 96.6h6M1942 96.6h-6M1476.2 181.7h6M1942 181.7h-6M1476.2 266.8h6M1942 266.8h-6" stroke="#111" stroke-width="1.1" fill="none"/>
<rect x="1476.2" y="11.5" width="465.8" height="340.4" fill="none" stroke="#0a0a0a" stroke-width="2"/>
<text class="t" x="1519.9" y="371.2" text-anchor="middle">−5</text>
<text class="t" x="1592.7" y="371.2" text-anchor="middle">0</text>
<text class="t" x="1665.4" y="371.2" text-anchor="middle">5</text>
<text class="t" x="1738.2" y="371.2" text-anchor="middle">10</text>
<text class="t" x="1811" y="371.2" text-anchor="middle">15</text>
<text class="t" x="1883.8" y="371.2" text-anchor="middle">20</text>
<text class="t" x="1472.8" y="20" text-anchor="end">−20</text>
<text class="t" x="1472.8" y="105.1" text-anchor="end">−10</text>
<text class="t" x="1472.8" y="190.2" text-anchor="end">0</text>
<text class="t" x="1472.8" y="275.3" text-anchor="end">10</text>
<text class="t" x="1472.8" y="360.4" text-anchor="end">20</text>
<text class="s" x="1709.1" y="397.4" text-anchor="middle">X (kpc)</text>
<text class="s" transform="translate(1419.2 181.7) rotate(-90)" text-anchor="middle">Y (kpc)</text>
<rect x="1971" y="11.5" width="17.6" height="340.4" fill="url(#jet)" stroke="#111" stroke-width="1.4"/>
<text class="t" x="1991.1" y="19.8">100</text>
<text class="t" x="1991.1" y="87.9">80</text>
<text class="t" x="1991.1" y="156">60</text>
<text class="t" x="1991.1" y="224">40</text>
<text class="t" x="1991.1" y="292.1">20</text>
<text class="t" x="1991.1" y="360.2">0</text>
<path d="M1988.6 79.6h-5.5M1988.6 147.7h-5.5M1988.6 215.7h-5.5M1988.6 283.8h-5.5" stroke="#111" stroke-width="1" fill="none"/>
<text class="s" transform="translate(2057 181.7) rotate(-90)" text-anchor="middle"><tspan class="sig">σ</tspan><tspan class="subv" dy="6">V</tspan><tspan class="subsub" dy="4">R</tspan><tspan dy="-10"> (km s</tspan><tspan class="sup" dy="-10">−1</tspan><tspan dy="10">)</tspan></text>
</g>
<g>
<clipPath id="c3"><polygon points="83.1,573.9 87.6,573.9 87.6,552.9 113.9,552.9 113.9,538.5 117.7,538.5 117.7,514.8 131.2,514.8 131.2,497.3 144.7,497.3 144.7,473.2 170.4,473.2 170.4,452.5 200.6,452.5 200.6,434.5 244,434.5 244,425.7 387.9,425.7 387.9,432.2 432,432.2 432,446.6 471.2,446.6 471.2,475.9 483.5,475.9 483.5,497.3 501.1,497.3 501.1,514.8 514.6,514.8 514.6,535.1 518.9,535.1 518.9,567.1 514.6,567.1 514.6,592.3 527,592.3 527,624.5 514.6,624.5 514.6,642.1 487.6,642.1 487.6,653.8 475.2,653.8 475.2,667.3 471.2,667.3 471.2,692.7 444.8,692.7 444.8,707.3 414,707.3 414,721.7 383.6,721.7 383.6,743.1 327.1,743.1 327.1,735.9 300.8,735.9 300.8,753.9 244,753.9 244,748.5 200.6,748.5 200.6,716.3 175.1,716.3 175.1,692.7 161.4,692.7 161.4,674.7 144.7,674.7 144.7,638.7 135.7,638.7 135.7,624.5 109.8,624.5 109.8,606.5 83.1,606.5"/></clipPath>
<g clip-path="url(#c3)" stroke-width="0.9" stroke-linejoin="round">
<polygon points="79,420 546,420 546,762 79,762" fill="#91fa99" stroke="#91fa99"/>
<polygon points="326.6,476.3 371.7,471.8 427.9,494.3 484.2,521.3 484.2,577.6 439.2,564.1 394.2,537.1 349.1,521.3 326.6,505.5" fill="#7bfad8" filter="url(#b5)"/>
<polygon points="205.1,483 259.1,465 304.1,460.5 322.1,510 326.6,555.1 337.9,592 337.9,590 326.6,635 304.1,657.5 281.6,646.2 270.4,612.5 270.4,590 270.4,592 259.1,532.6 236.6,505.5" fill="#bdfa6e" filter="url(#b6)"/>
<polygon points="295.1,564.1 322.1,566.3 326.6,592 326.6,590 317.6,612.5 299.6,612.5 290.6,590" fill="#dbfa5e" filter="url(#b5)"/>
<polygon points="281.6,657.5 371.7,653 416.7,664.3 371.7,680 304.1,680" fill="#7eface" filter="url(#b5)"/>
<polygon points="236.6,689 304.1,689 416.7,684.5 439.2,657.5 461.7,664.3 439.2,707 349.1,720.5 236.6,716" fill="#b6fa73" filter="url(#b4)"/>
<polygon points="117.7,514.6 157.8,520.2 196.1,514.6 236.6,537.1 263.6,568.6 272.6,592 272.6,590 263.6,635 245.6,675.5 214.1,684.5 169,680 101.5,592" fill="#78fae1" filter="url(#b3)"/>
<polygon points="117.7,538.2 146.5,537.1 164.5,530.3 205.1,537.1 241.1,555.1 261.4,575.3 265.9,592 264.7,590 256.8,623.7 241.1,666.5 223.1,666.5 200.6,657.5 169,675.5 101.5,592" fill="#55b4fa" filter="url(#b2_5)"/>
<polygon points="114.3,538.2 139.8,541.6 162.3,544.3 202.8,554.6 236.6,566.3 254.6,583.2 259.1,592 256.8,590 252.3,608 236.6,630.5 200.6,655.3 184.8,657.5 169,675.5 144.7,675.1 101.5,592" fill="#0618ef" filter="url(#b2)"/>
<polygon points="135.3,564.1 157.8,555.5 187.1,556.7 218.6,567.5 243.3,580.3 249,592 249,590 245.6,603.5 223.1,612.5 187.1,626 169,644 184.8,657.5 182.6,664.3 169,668.8 144.7,675.1 144.7,642.9 153.3,638.4 146.5,623.7 109.8,623.7 109.8,590 117.3,577.6" fill="#00007d" filter="url(#b1_2)"/>
<polygon points="87.6,552.8 114.3,552.8 121.8,564.1 101.5,577.6 115,592 112.8,590 92.5,605.7 83.1,605.7 83.1,574.2 87.6,574.2" fill="#2861f9" stroke="#2861f9"/>
<polygon points="97,552.8 114.3,552.8 117.3,560.7" fill="#0311ed" stroke="#0311ed"/>
<polygon points="135.7,623.7 146.5,619.2 155.5,614.7 166.8,623.7 151,638.4 135.7,638.4" fill="#1e4ff9" stroke="#1e4ff9"/>
<polygon points="162.3,675.1 169,668.8 182.6,664.3 205.1,675.5 196.1,684.5 175.8,689 162.3,692.4" fill="#3274f8" stroke="#3274f8"/>
<polygon points="117.7,514.6 131.2,514.6 137.5,519.1 157.8,520.2 146.5,537.1 117.7,538.2" fill="#78fae1" stroke="#78fae1"/>
<polygon points="131.2,497 144.7,497 153.3,499.9 175.8,506.7 157.8,520.2 137.5,519.1 131.2,514.6" fill="#50abfa" stroke="#50abfa"/>
<polygon points="144.7,473.6 170.4,473.6 184.8,479.7 196.1,485.3 169,498.8 153.3,499.9 144.7,497" fill="#82fac5" stroke="#82fac5"/>
<polygon points="170.4,452 200.6,452 214.1,462.8 184.8,479.7 170.4,473.6" fill="#6ce6f0" stroke="#6ce6f0"/>
<polygon points="200.6,434.9 244,434.9 250.1,440.3 256.8,449.3 236.6,458.3 218.6,462.8 200.6,452" fill="#f8c841" stroke="#f8c841"/>
<polygon points="244,426.1 291.7,426.1 291.7,442.5 282.7,450.4 262.5,450.4 250.1,440.3" fill="#f9e148" stroke="#f9e148"/>
<polygon points="256.8,450.4 282.7,450.4 291.7,447 259.1,465" fill="#f6b63c" stroke="#f6b63c"/>
<polygon points="223.1,462.8 252.3,451.5 259.1,465 225.3,474" fill="#f2fa54" stroke="#f2fa54"/>
<polygon points="296.2,426.1 387.9,426.1 387.9,431.3 380.7,431.3 379.5,449.3 337.9,447 326.6,456 304.1,456 296.2,442.5" fill="#cbfa65" stroke="#cbfa65"/>
<polygon points="301.9,449.3 333.4,449.3 326.6,457.1 304.1,457.1" fill="#fafa50" filter="url(#b1)"/>
<polygon points="380.7,431.3 432,431.3 432,447 421.2,460.5 376.2,462.8 379.5,449.3" fill="#85fabb" stroke="#85fabb"/>
<polygon points="423.4,451.5 432,447 471.2,447 471.2,476.3 452.7,476.3 423.4,460.5" fill="#6eebed" stroke="#6eebed"/>
<polygon points="412.2,462.8 452.7,476.3 439.2,485.3 405.4,478.5" fill="#a9fa7d" filter="url(#b1)"/>
<polygon points="439.2,485.3 452.7,476.3 483.5,476.3 483.5,497.7 461.7,503.3 450.5,496.5" fill="#f2fa54" stroke="#f2fa54"/>
<polygon points="461.7,503.3 483.5,497.7 501.1,497.7 501.1,514.6 475.2,521.3 448.2,510" fill="#6ce6f0" stroke="#6ce6f0"/>
<polygon points="475.2,521.3 501.1,514.6 514.6,514.6 514.6,534.8 484.2,537.1" fill="#4699f9" stroke="#4699f9"/>
<polygon points="484.2,537.1 518.9,534.8 518.9,567.5 506.7,564.1 473,550.6" fill="#59bdf8" stroke="#59bdf8"/>
<polygon points="434.7,516.8 475.2,521.3 484.2,537.1 473,550.6 448.2,537.1" fill="#59bdf8" filter="url(#b1_5)"/>
<polygon points="475.2,566.3 506.7,564.1 514.6,568.6 514.6,588.8 506.7,586.6" fill="#2861f9" stroke="#2861f9"/>
<polygon points="175.1,689 196.1,684.5 205.1,680 227.6,698 214.1,713.8 175.1,715.6" fill="#a3fa82" stroke="#a3fa82"/>
<polygon points="200.6,716 214.1,713.8 223.1,725 252.3,729.5 252.3,747.6 200.6,748.2" fill="#f9d946" stroke="#f9d946"/>
<polygon points="214.1,713.8 223.1,709.3 252.3,716 252.3,729.5 223.1,725" fill="#f39a34" stroke="#f39a34"/>
<polygon points="223.1,709.3 227.6,698 256.8,702.5 259.1,716 252.3,716" fill="#f9e94b" stroke="#f9e94b"/>
<polygon points="259.1,702.5 295.1,698 304.1,716 296.2,731.8 259.1,727.3" fill="#dbfa5e" stroke="#dbfa5e"/>
<polygon points="244,748.2 252.3,729.5 296.2,734 300.7,738.6 300.7,754.3 244,754.3" fill="#f9d946" stroke="#f9d946"/>
<ellipse cx="315.8" cy="726.2" rx="19.6" ry="10.1" fill="#3274f8" stroke="#3274f8"/>
<polygon points="335.6,716 371.7,714.9 383.6,722.8 383.6,734 364.9,721.7 344.6,722.8 335.6,730.7" fill="#eafa57" stroke="#eafa57"/>
<polygon points="327.1,736.3 335.6,730.7 344.6,722.8 364.9,721.7 383.6,734 383.6,743.1 327.1,743.1" fill="#f8d044" stroke="#f8d044"/>
<polygon points="369.4,702.5 400.9,700.3 414,707 414,721.7 383.6,721.7" fill="#c3fa69" stroke="#c3fa69"/>
<polygon points="400.9,689 425.7,682.3 444.8,692.4 444.8,707 414,707" fill="#eafa57" stroke="#eafa57"/>
<polygon points="427.9,680 457.2,662 471.2,667.6 471.2,692.4 444.8,692.4" fill="#f8c841" stroke="#f8c841"/>
<polygon points="436.9,655.3 457.2,646.2 475.2,653 475.2,667.6 457.2,662" fill="#c3fa69" stroke="#c3fa69"/>
<polygon points="450.5,641.7 466.2,630.5 487.6,641.7 487.6,653 475.2,653" fill="#73f5e8" stroke="#73f5e8"/>
<polygon points="475.2,626 497.7,614.7 514.6,623.7 514.6,641.7 487.6,641.7" fill="#82fac5" stroke="#82fac5"/>
<polygon points="493.2,600.1 527,592.2 527,623.7 514.6,623.7 500,612.5" fill="#50abfa" stroke="#50abfa"/>
<polygon points="470.7,617 486.5,614.7 482,623.7 471.8,627.1" fill="#1e4ff9" stroke="#1e4ff9"/>
</g>
<path d="M122.9 760.7v-6M122.9 420.3v6M195.7 760.7v-6M195.7 420.3v6M268.4 760.7v-6M268.4 420.3v6M341.2 760.7v-6M341.2 420.3v6M414 760.7v-6M414 420.3v6M486.8 760.7v-6M486.8 420.3v6M79.2 505.4h6M545 505.4h-6M79.2 590.5h6M545 590.5h-6M79.2 675.6h6M545 675.6h-6" stroke="#111" stroke-width="1.1" fill="none"/>
<rect x="79.2" y="420.3" width="465.8" height="340.4" fill="none" stroke="#0a0a0a" stroke-width="2"/>
<text class="t" x="122.9" y="780" text-anchor="middle">−5</text>
<text class="t" x="195.7" y="780" text-anchor="middle">0</text>
<text class="t" x="268.4" y="780" text-anchor="middle">5</text>
<text class="t" x="341.2" y="780" text-anchor="middle">10</text>
<text class="t" x="414" y="780" text-anchor="middle">15</text>
<text class="t" x="486.8" y="780" text-anchor="middle">20</text>
<text class="t" x="75.8" y="428.8" text-anchor="end">−20</text>
<text class="t" x="75.8" y="513.9" text-anchor="end">−10</text>
<text class="t" x="75.8" y="599" text-anchor="end">0</text>
<text class="t" x="75.8" y="684.1" text-anchor="end">10</text>
<text class="t" x="75.8" y="769.2" text-anchor="end">20</text>
<text class="s" x="312.1" y="806.2" text-anchor="middle">X (kpc)</text>
<text class="s" transform="translate(22.2 590.5) rotate(-90)" text-anchor="middle">Y (kpc)</text>
<rect x="573.4" y="420.3" width="17.6" height="340.4" fill="url(#jet)" stroke="#111" stroke-width="1.4"/>
<text class="t" x="593.5" y="428.6">300</text>
<text class="t" x="593.5" y="485.3">275</text>
<text class="t" x="593.5" y="542.1">250</text>
<text class="t" x="593.5" y="598.8">225</text>
<text class="t" x="593.5" y="655.5">200</text>
<text class="t" x="593.5" y="712.3">175</text>
<text class="t" x="593.5" y="769">150</text>
<path d="M591 477h-5.5M591 533.8h-5.5M591 590.5h-5.5M591 647.2h-5.5M591 704h-5.5" stroke="#111" stroke-width="1" fill="none"/>
<text class="s" transform="translate(659.4 590.5) rotate(-90)" text-anchor="middle">V<tspan class="sub" dy="5">ϕ</tspan><tspan dy="-5"> (km s</tspan><tspan class="sup" dy="-10">−1</tspan><tspan dy="10">)</tspan></text>
</g>
<g>
<clipPath id="c4"><polygon points="781.6,573.9 786.1,573.9 786.1,552.9 812.4,552.9 812.4,538.5 816.2,538.5 816.2,514.8 829.7,514.8 829.7,497.3 843.2,497.3 843.2,473.2 868.9,473.2 868.9,452.5 899.1,452.5 899.1,434.5 942.5,434.5 942.5,425.7 1086.4,425.7 1086.4,432.2 1130.5,432.2 1130.5,446.6 1169.7,446.6 1169.7,475.9 1182,475.9 1182,497.3 1199.6,497.3 1199.6,514.8 1213.1,514.8 1213.1,535.1 1217.4,535.1 1217.4,567.1 1213.1,567.1 1213.1,592.3 1225.5,592.3 1225.5,624.5 1213.1,624.5 1213.1,642.1 1186.1,642.1 1186.1,653.8 1173.7,653.8 1173.7,667.3 1169.7,667.3 1169.7,692.7 1143.3,692.7 1143.3,707.3 1112.5,707.3 1112.5,721.7 1082.1,721.7 1082.1,743.1 1025.6,743.1 1025.6,735.9 999.3,735.9 999.3,753.9 942.5,753.9 942.5,748.5 899.1,748.5 899.1,716.3 873.6,716.3 873.6,692.7 859.9,692.7 859.9,674.7 843.2,674.7 843.2,638.7 834.2,638.7 834.2,624.5 808.3,624.5 808.3,606.5 781.6,606.5"/></clipPath>
<g clip-path="url(#c4)" stroke-width="0.9" stroke-linejoin="round">
<polygon points="777,420 1244,420 1244,762 777,762" fill="#781914" stroke="#781914"/>
<polygon points="1249.8,431.3 1078.7,431.3 1078.7,449.3 1035.9,447 1031.4,465 1002.1,465 997.6,476.3 1002.1,485.3 972.9,485.3 970.6,505.5 952.6,505.5 957.1,519.1 934.6,525.8 903.1,532.6 867,543.8 864.8,555.1 853.5,563 873.8,568.6 873.8,582.1 898.6,577.6 921.1,586.6 925.6,592 921.1,590 871.6,594.5 869.3,608 860.3,614.7 878.3,635 894.1,644 912.1,648.5 934.6,662 957.1,677.8 972.9,693.5 995.4,698 997.6,716 1033.6,716 1067.4,709.3 1082.5,719.4 1082.5,745.3 1249.8,745.3" fill="#eb4228" filter="url(#b0_8)"/>
<polygon points="1249.8,431.3 1079.8,431.3 1079.8,450.4 1035.9,449.3 1033.6,469.5 1002.1,474 1002.1,489.8 975.1,492 972.9,510 957.1,514.6 957.1,525.8 934.6,532.6 903.1,539.3 871.6,550.6 871.6,559.6 880.6,566.3 882.8,577.6 903.1,582.1 930.1,586.6 934.6,592 934.6,590 903.1,594.5 876.1,599 873.8,614.7 882.8,630.5 898.6,637.2 916.6,641.7 939.1,655.3 961.6,668.8 979.6,686.8 1002.1,695.8 1031.4,709.3 1067.4,709.3 1249.8,716" fill="#f39a34" filter="url(#b2)"/>
<polygon points="1249.8,431.3 1082.5,431.3 1078.7,450.4 1035.9,469.5 1031.4,471.8 1024.6,485.3 1002.1,496.5 968.4,521.3 934.6,539.3 903.1,548.3 878.3,564.1 885.1,577.6 912.1,577.6 934.6,586.6 939.1,592 939.1,590 912.1,603.5 885.1,603.5 880.6,619.2 903.1,628.2 934.6,637.2 968.4,657.5 1002.1,682.3 1031.4,700.3 1067.4,709.3 1249.8,716" fill="#f2fa54" filter="url(#b2_5)"/>
<polygon points="1249.8,453.8 1121.4,460.5 1110.2,456 1074.2,451.5 1069.7,465 1035.9,474 1024.6,489.8 1002.1,510 966.1,530.3 934.6,548.3 903.1,559.6 889.6,573.1 939.1,582.1 943.6,592 943.6,590 912.1,612.5 889.6,608 903.1,617 934.6,626 968.4,646.2 1002.1,668.8 1029.1,684.5 1065.2,702.5 1249.8,702.5" fill="#96fa8c" filter="url(#b3)"/>
<polygon points="1249.8,487.5 1137.2,487.5 1103.4,476.3 1065.2,483 1042.6,489.8 1024.6,505.5 1002.1,525.8 968.4,543.8 948.1,566.3 939.1,592 939.1,590 950.3,617 968.4,635 1002.1,655.3 1024.6,675.5 1058.4,689 1092.2,695.8 1249.8,695.8" fill="#73f5e8" filter="url(#b3)"/>
<polygon points="1249.8,497.7 1182.2,497.7 1159.7,503.3 1128.2,492 1092.2,485.3 1058.4,489.8 1047.1,507.8 1024.6,516.8 1002.1,539.3 970.6,557.3 952.6,575.3 944.7,592 944.7,590 957.1,619.2 979.6,635 1002.1,648.5 1024.6,666.5 1058.4,677.8 1092.2,689 1128.2,680 1171,666.5 1249.8,666.5" fill="#50abfa" filter="url(#b3)"/>
<polygon points="1249.8,497.7 1182.2,497.7 1146.2,494.3 1092.2,492 1058.4,496.5 1035.9,516.8 1002.1,537.1 975.1,555.1 954.8,573.1 948.1,592 950.3,599 968.4,623.7 1002.1,641.7 1024.6,657.5 1058.4,673.3 1092.2,684.5 1123.7,671 1146.2,657.5 1159.7,635 1148.5,590 1159.7,555.1 1171,528.1 1249.8,521.3" fill="#2861f9" filter="url(#b3)"/>
<polygon points="1249.8,497.7 1199.8,497.7 1146.2,505.5 1092.2,505.5 1047.1,519.1 1024.6,537.1 979.6,552.8 957.1,568.6 949.2,592 952.6,599 968.4,617 1002.1,630.5 1047.1,646.2 1092.2,664.3 1123.7,657.5 1128.2,635 1148.5,612.5 1148.5,590 1159.7,555.1 1171,528.1 1249.8,521.3" fill="#0618ef" filter="url(#b3)"/>
<polygon points="957.1,592 975.1,575.3 1002.1,564.1 1047.1,546.1 1092.2,525.8 1137.2,519.1 1159.7,532.6 1141.7,555.1 1114.7,577.6 1103.4,592 1103.4,590 1114.7,617 1092.2,635 1047.1,626 1002.1,612.5 968.4,599" fill="#0003bc" filter="url(#b3)"/>
<polygon points="963.9,592 984.1,582.1 1024.6,570.8 1069.7,557.3 1114.7,532.6 1132.7,534.8 1123.7,550.6 1092.2,573.1 1069.7,592 1069.7,590 1080.9,608 1065.2,617 1024.6,605.7 979.6,596.7" fill="#00008d" filter="url(#b3)"/>
<polygon points="887.3,596.7 898.6,596.7 898.6,605.7 887.3,605.7" fill="#50abfa" filter="url(#b1_5)"/>
<polygon points="907.6,593.3 932.3,591.1 930.1,600.1 912.1,602.4" fill="#f29132" filter="url(#b1_5)"/>
<polygon points="1082.5,431.3 1129.5,431.3 1129.5,447 1121.4,451.5 1110.2,456 1078.7,449.3" fill="#f9d946" stroke="#f9d946"/>
<polygon points="1121.4,451.5 1129.5,447 1168.7,447 1168.7,476.3 1150.7,476.3 1121.4,460.5" fill="#f2fa54" stroke="#f2fa54"/>
<polygon points="1034.8,447 1074.2,449.3 1067.4,467.3 1058.4,474 1033.6,469.5" fill="#f39a34" filter="url(#b0_8)"/>
<polygon points="1146.2,492 1150.7,476.3 1182.2,476.3 1182.2,497.7 1173.2,502.2" fill="#96fa8c" stroke="#96fa8c"/>
<polygon points="1173.2,502.2 1199.8,497.7 1199.8,514.6 1171,521.3 1146.2,510" fill="#0b27f4" stroke="#0b27f4"/>
<polygon points="1173.2,521.3 1199.8,514.6 1212.2,514.6 1212.2,534.8 1182.2,539.3" fill="#3274f8" stroke="#3274f8"/>
<polygon points="1168.7,548.3 1189,541.6 1216.9,534.8 1216.9,567.5 1204.7,566.3 1182.2,559.6" fill="#cbfa65" stroke="#cbfa65"/>
<polygon points="1173.2,564.1 1182.2,559.6 1204.7,566.3 1212.2,568.6 1212.2,586.6 1193.5,582.1" fill="#78fae1" stroke="#78fae1"/>
<polygon points="1148.5,592 1173.2,577.6 1193.5,582.1 1207,592 1193.5,597.8 1159.7,597.8" fill="#59bdf8" stroke="#59bdf8"/>
<polygon points="1191.2,600.1 1226.1,592.2 1226.1,623.7 1212.2,623.7 1198,612.5" fill="#cbfa65" stroke="#cbfa65"/>
<polygon points="1168.7,619.2 1191.2,600.1 1198,612.5 1182.2,621.5" fill="#82fac5" stroke="#82fac5"/>
<polygon points="1173.2,628.2 1195.7,614.7 1212.2,623.7 1212.2,641.7 1186.7,641.7" fill="#50abfa" stroke="#50abfa"/>
<polygon points="1148.5,641.7 1164.2,630.5 1186.7,641.7 1186.7,653 1173.2,653" fill="#96fa8c" stroke="#96fa8c"/>
<polygon points="1119.2,650.8 1148.5,641.7 1173.2,653 1173.2,667.6 1155.2,663.1 1128.2,680 1092.2,684.5" fill="#50abfa" filter="url(#b1)"/>
<polygon points="1128.2,680 1155.2,663.1 1168.7,667.6 1168.7,692.4 1142.8,692.4" fill="#78fae1" stroke="#78fae1"/>
<polygon points="1098.9,695.8 1125.9,682.3 1142.8,692.4 1142.8,707 1112.9,707" fill="#96fa8c" stroke="#96fa8c"/>
<polygon points="1067.4,709.3 1096.7,699.2 1112.9,707 1112.9,721.7 1082.5,721.7" fill="#cbfa65" stroke="#cbfa65"/>
<polygon points="997.6,716 1033.6,716 1067.4,710.4 1082.5,720.5 1082.5,734 1064,722.8 1043.8,722.8 1025.8,736.3 999.9,736.3" fill="#bf281c" filter="url(#b1)"/>
<polygon points="1042.6,712.7 1067.4,708.2 1069.7,716 1044.9,719.4" fill="#f39a34" filter="url(#b1)"/>
<polygon points="1025.8,736.3 1033.6,730.7 1043.8,722.8 1064,722.8 1082.5,735.2 1082.5,743.5 1025.8,743.5" fill="#781914" stroke="#781914"/>
</g>
<path d="M821.3 760.7v-6M821.3 420.3v6M894.1 760.7v-6M894.1 420.3v6M966.8 760.7v-6M966.8 420.3v6M1039.6 760.7v-6M1039.6 420.3v6M1112.4 760.7v-6M1112.4 420.3v6M1185.2 760.7v-6M1185.2 420.3v6M777.6 505.4h6M1243.4 505.4h-6M777.6 590.5h6M1243.4 590.5h-6M777.6 675.6h6M1243.4 675.6h-6" stroke="#111" stroke-width="1.1" fill="none"/>
<rect x="777.6" y="420.3" width="465.8" height="340.4" fill="none" stroke="#0a0a0a" stroke-width="2"/>
<text class="t" x="821.3" y="780" text-anchor="middle">−5</text>
<text class="t" x="894.1" y="780" text-anchor="middle">0</text>
<text class="t" x="966.8" y="780" text-anchor="middle">5</text>
<text class="t" x="1039.6" y="780" text-anchor="middle">10</text>
<text class="t" x="1112.4" y="780" text-anchor="middle">15</text>
<text class="t" x="1185.2" y="780" text-anchor="middle">20</text>
<text class="t" x="774.2" y="428.8" text-anchor="end">−20</text>
<text class="t" x="774.2" y="513.9" text-anchor="end">−10</text>
<text class="t" x="774.2" y="599" text-anchor="end">0</text>
<text class="t" x="774.2" y="684.1" text-anchor="end">10</text>
<text class="t" x="774.2" y="769.2" text-anchor="end">20</text>
<text class="s" x="1010.5" y="806.2" text-anchor="middle">X (kpc)</text>
<text class="s" transform="translate(720.6 590.5) rotate(-90)" text-anchor="middle">Y (kpc)</text>
<rect x="1272.2" y="420.3" width="17.6" height="340.4" fill="url(#jet)" stroke="#111" stroke-width="1.4"/>
<text class="t" x="1292.3" y="428.6">50</text>
<text class="t" x="1292.3" y="496.7">40</text>
<text class="t" x="1292.3" y="564.8">30</text>
<text class="t" x="1292.3" y="632.8">20</text>
<text class="t" x="1292.3" y="700.9">10</text>
<text class="t" x="1292.3" y="769">0</text>
<path d="M1289.8 488.4h-5.5M1289.8 556.5h-5.5M1289.8 624.5h-5.5M1289.8 692.6h-5.5" stroke="#111" stroke-width="1" fill="none"/>
<text class="s" transform="translate(1344.7 590.5) rotate(-90)" text-anchor="middle">V<tspan class="sub" dy="5">ϕerr</tspan><tspan dy="-5"> (km s</tspan><tspan class="sup" dy="-10">−1</tspan><tspan dy="10">)</tspan></text>
</g>
<g>
<clipPath id="c5"><polygon points="1480.1,573.9 1484.6,573.9 1484.6,552.9 1510.9,552.9 1510.9,538.5 1514.7,538.5 1514.7,514.8 1528.2,514.8 1528.2,497.3 1541.7,497.3 1541.7,473.2 1567.4,473.2 1567.4,452.5 1597.6,452.5 1597.6,434.5 1641,434.5 1641,425.7 1784.9,425.7 1784.9,432.2 1829,432.2 1829,446.6 1868.2,446.6 1868.2,475.9 1880.5,475.9 1880.5,497.3 1898.1,497.3 1898.1,514.8 1911.6,514.8 1911.6,535.1 1915.9,535.1 1915.9,567.1 1911.6,567.1 1911.6,592.3 1924,592.3 1924,624.5 1911.6,624.5 1911.6,642.1 1884.6,642.1 1884.6,653.8 1872.2,653.8 1872.2,667.3 1868.2,667.3 1868.2,692.7 1841.8,692.7 1841.8,707.3 1811,707.3 1811,721.7 1780.6,721.7 1780.6,743.1 1724.1,743.1 1724.1,735.9 1697.8,735.9 1697.8,753.9 1641,753.9 1641,748.5 1597.6,748.5 1597.6,716.3 1572.1,716.3 1572.1,692.7 1558.4,692.7 1558.4,674.7 1541.7,674.7 1541.7,638.7 1532.7,638.7 1532.7,624.5 1506.8,624.5 1506.8,606.5 1480.1,606.5"/></clipPath>
<g clip-path="url(#c5)" stroke-width="0.9" stroke-linejoin="round">
<polygon points="1476,420 1943,420 1943,762 1476,762" fill="#f1822f" stroke="#f1822f"/>
<polygon points="1570.6,519.1 1602.1,505.5 1633.6,487.5 1678.6,483 1701.1,471.8 1768.7,471.8 1802.4,485.3 1833.9,492 1849.7,476.3 1948.8,476.3 1948.8,720.5 1811.9,720.5 1768.7,702.5 1728.1,702.5 1701.1,693.5 1667.4,693.5 1633.6,675.5 1611.1,650.8 1593.1,635 1615.6,619.2 1633.6,601.2 1642.6,590 1638.1,577.6 1615.6,546.1 1584.1,525.8" fill="#f9e94b" filter="url(#b3)"/>
<polygon points="1611.1,519.1 1644.8,496.5 1678.6,487.5 1723.6,480.8 1768.7,485.3 1813.7,498.8 1847.5,510 1948.8,510 1948.8,675.5 1813.7,675.5 1795.7,675.5 1768.7,684.5 1723.6,686.8 1678.6,684.5 1644.8,673.3 1620.1,648.5 1633.6,619.2 1647.1,590 1647.1,592 1633.6,555.1" fill="#cbfa65" filter="url(#b3)"/>
<polygon points="1633.6,521.3 1667.4,505.5 1701.1,496.5 1746.1,489.8 1791.2,498.8 1836.2,516.8 1948.8,516.8 1948.8,664.3 1802.4,664.3 1768.7,673.3 1723.6,675.5 1678.6,673.3 1651.6,657.5 1642.6,626 1653.8,590 1656.1,592 1647.1,555.1" fill="#96fa8c" filter="url(#b3)"/>
<polygon points="1667.4,528.1 1701.1,514.6 1746.1,507.8 1791.2,514.6 1824.9,525.8 1858.7,528.1 1948.8,528.1 1948.8,635 1824.9,635 1791.2,646.2 1757.4,657.5 1723.6,662 1689.9,648.5 1674.1,623.7 1669.6,590 1671.9,592 1665.1,555.1" fill="#78fae1" filter="url(#b3)"/>
<polygon points="1705.6,555.1 1723.6,532.6 1757.4,523.6 1791.2,532.6 1813.7,546.1 1836.2,564.1 1858.7,577.6 1858.7,599 1836.2,608 1802.4,623.7 1779.9,635 1752.9,650.8 1723.6,641.7 1701.1,617 1687.6,590 1687.6,592 1692.1,566.3" fill="#5dc6f7" filter="url(#b3)"/>
<polygon points="1712.4,592 1723.6,564.1 1757.4,546.1 1786.7,559.6 1802.4,592 1802.4,590 1791.2,617 1768.7,626 1734.9,617 1719.1,590" fill="#377df8" filter="url(#b4)"/>
<polygon points="1723.6,592 1746.1,584.3 1768.7,582.1 1786.7,592 1782.2,594.5 1757.4,596.7 1723.6,592.2" fill="#1e4ff9" filter="url(#b3)"/>
<polygon points="1528.2,497 1572.8,506.7 1602.1,528.1 1624.6,555.1 1642.6,592 1640.3,590 1615.6,619.2 1597.6,635 1611.1,664.3 1633.6,684.5 1572.8,692.4 1541.7,642.9 1498.5,592" fill="#f39a34" filter="url(#b2_5)"/>
<polygon points="1511.3,538.2 1515.8,538.2 1515.8,514.6 1529.4,514.6 1554.8,523.6 1541.3,537.1 1559.3,548.3 1602.1,561.8 1629.1,577.6 1637,592 1631.3,590 1611.1,603.5 1575.1,614.7 1543.5,617 1506.8,623.7 1498.5,592" fill="#eb4228" filter="url(#b2)"/>
<polygon points="1584.1,514.6 1602.1,516.8 1620.1,537.1 1629.1,555.1 1602.1,537.1" fill="#f9e94b" filter="url(#b2)"/>
<polygon points="1481,574.2 1485.2,574.2 1485.2,552.8 1511.3,552.8 1511.3,538.2 1543.5,546.1 1548,559.6 1566,566.3 1584.1,577.6 1597.6,586.6 1602.1,592 1597.6,590 1570.6,596.7 1566,610.2 1539,619.2 1533.9,623.7 1506.8,623.7 1506.8,605.7 1481,605.7" fill="#781914" filter="url(#b1)"/>
<polygon points="1515.8,514.6 1529.4,514.6 1554.8,523.6 1541.3,537.1 1515.8,538.2" fill="#aa2118" filter="url(#b1)"/>
<polygon points="1528.2,497 1541.7,497 1572.8,506.7 1554.8,521.3 1529.4,514.6" fill="#f18a31" stroke="#f18a31"/>
<polygon points="1541.7,473.6 1567.4,473.6 1575.1,478.5 1581.8,479.7 1597.6,485.3 1572.8,506.7 1541.7,497" fill="#f5ac3a" stroke="#f5ac3a"/>
<polygon points="1568.3,452 1598.2,452 1613.3,463.9 1584.1,479.7 1575.1,478.5 1568.3,473.6" fill="#1e4ff9" stroke="#1e4ff9"/>
<polygon points="1615.6,462.8 1642.6,453.8 1659.5,450.4 1679.7,450.4 1689.9,449.3 1656.1,471.8 1629.1,483 1620.1,474" fill="#ec4729" filter="url(#b0_8)"/>
<polygon points="1656.1,471.8 1689.9,449.3 1694.4,451.5 1696.6,478.5 1633.6,487.5 1629.1,483" fill="#f1822f" filter="url(#b0_8)"/>
<polygon points="1598.2,434.9 1641.9,434.9 1647.1,441.4 1642.6,453.8 1615.6,462.8 1598.2,452" fill="#8c1c16" stroke="#8c1c16"/>
<polygon points="1641.9,426.1 1689.9,426.1 1689.9,442.5 1679.7,450.4 1659.5,450.4 1647.1,441.4" fill="#821b15" stroke="#821b15"/>
<polygon points="1693.2,426.1 1732.6,426.1 1732.6,442.5 1723.6,449.3 1703.4,449.3 1693.2,442.5" fill="#f9d946" stroke="#f9d946"/>
<polygon points="1694.4,451.5 1703.4,449.3 1723.6,449.3 1730.4,453.8 1728.1,467.3 1696.6,469.5" fill="#ee642a" stroke="#ee642a"/>
<polygon points="1737.1,426.1 1784.9,426.1 1784.9,431.3 1777.7,431.3 1777.7,449.3 1741.6,449.3 1737.1,442.5" fill="#821b15" stroke="#821b15"/>
<polygon points="1732.6,449.3 1773.2,451.5 1768.7,469.5 1730.4,469.5" fill="#f8c841" stroke="#f8c841"/>
<polygon points="1779.9,431.3 1828.5,431.3 1828.5,447 1820.4,451.5 1818.2,460.5 1775.4,451.5" fill="#f4a337" stroke="#f4a337"/>
<polygon points="1773.2,451.5 1809.2,458.3 1802.4,474 1775.4,465" fill="#ef732d" stroke="#ef732d"/>
<polygon points="1820.4,451.5 1828.5,447 1867.7,447 1867.7,476.3 1849.7,476.3 1820.4,460.5" fill="#b42319" stroke="#b42319"/>
<polygon points="1809.2,462.8 1820.4,460.5 1849.7,476.3 1833.9,485.3 1813.7,474" fill="#faf24e" stroke="#faf24e"/>
<polygon points="1802.4,474 1813.7,476.3 1833.9,483 1832.8,490.9 1822.7,490.9 1802.4,481.9" fill="#ee642a" stroke="#ee642a"/>
<polygon points="1833.9,485.3 1849.7,476.3 1881.2,476.3 1881.2,497.7 1856.5,505.5 1824.9,498.8" fill="#dbfa5e" stroke="#dbfa5e"/>
<polygon points="1856.5,505.5 1881.2,497.7 1898.1,497.7 1898.1,514.6 1872.2,521.3 1845.2,514.6" fill="#73f5e8" stroke="#73f5e8"/>
<polygon points="1872.2,521.3 1898.1,514.6 1911.6,514.6 1911.6,534.8 1888,539.3" fill="#59bdf8" stroke="#59bdf8"/>
<polygon points="1867.7,548.3 1888,542.7 1915.9,534.8 1915.9,567.5 1903.7,564.1 1881.2,559.6" fill="#f9d946" stroke="#f9d946"/>
<polygon points="1858.7,568.6 1881.2,561.8 1903.7,565.2 1911.6,568.6 1911.6,588.8 1892.5,579.8 1872.2,586.6" fill="#96fa8c" stroke="#96fa8c"/>
<polygon points="1872.2,586.6 1892.5,579.8 1906,586.6 1906,592.2 1876.7,592.2" fill="#377df8" stroke="#377df8"/>
<polygon points="1876.7,603.5 1894.7,596.7 1925.1,592.2 1925.1,623.7 1911.2,623.7 1897,614.7" fill="#cbfa65" stroke="#cbfa65"/>
<polygon points="1872.2,628.2 1894.7,614.7 1911.2,623.7 1911.2,641.7 1885.7,641.7" fill="#2861f9" stroke="#2861f9"/>
<polygon points="1863.2,599 1879,596.7 1874.5,608 1863.2,609.1" fill="#2861f9" stroke="#2861f9"/>
<polygon points="1847.5,641.7 1863.2,630.5 1885.7,641.7 1885.7,653 1872.2,653" fill="#f2fa54" stroke="#f2fa54"/>
<polygon points="1813.7,646.2 1840.7,630.5 1863.2,619.2 1867.7,626 1845.2,641.7 1822.7,653" fill="#dbfa5e" filter="url(#b1_5)"/>
<polygon points="1824.9,657.5 1872.2,648.5 1872.2,667.6 1867.7,667.6 1867.7,692.4 1841.8,692.4 1841.8,707 1811.9,707 1794.6,689" fill="#78fae1" filter="url(#b0_8)"/>
<polygon points="1795.7,657.5 1813.7,648.5 1822.7,657.5 1800.2,662" fill="#5dc6f7" filter="url(#b1)"/>
<polygon points="1811.4,664.3 1833.9,660.2 1831.7,665.4 1812.6,671.5" fill="#f8c841" filter="url(#b1)"/>
<polygon points="1768.7,708.2 1791.2,698 1811.9,707 1811.9,721.7 1781,721.7 1768.7,716" fill="#f9e94b" stroke="#f9e94b"/>
<polygon points="1732.6,707 1764.2,698 1768.7,708.2 1741.6,712.7" fill="#f4a337" stroke="#f4a337"/>
<polygon points="1724.8,736.3 1733.8,725 1741.6,712.7 1768.7,708.2 1768.7,716 1781,722.8 1781,743.1 1724.8,743.1" fill="#ec4729" stroke="#ec4729"/>
<polygon points="1701.1,703.7 1725.9,703.7 1723.6,716 1702.2,716" fill="#fafa50" stroke="#fafa50"/>
<polygon points="1701.1,699.2 1724.8,699.2 1723.6,703.7 1702.2,703.7" fill="#f4a337" filter="url(#b0_8)"/>
<polygon points="1656.1,698 1692.1,698 1696.6,716 1694.4,731.8 1660.6,729.5 1651.6,716" fill="#ec4d29" stroke="#ec4d29"/>
<ellipse cx="1714" cy="726.2" rx="19.6" ry="10.1" fill="#821b15" stroke="#821b15"/>
<polygon points="1559.3,675.1 1575.1,664.3 1611.1,664.3 1620.1,684.5 1638.1,698 1656.1,698 1651.6,716 1620.1,707 1588.6,689 1572.8,692.4 1559.3,692.4" fill="#ed5329" stroke="#ed5329"/>
<polygon points="1572.8,692.4 1588.6,689 1620.1,707 1651.6,717.2 1656.1,727.3 1687.6,730.7 1697.7,736.3 1697.7,754.3 1641.9,754.3 1647.1,729.5 1620.1,725 1611.1,716 1572.8,716" fill="#781914" stroke="#781914"/>
<polygon points="1598.2,716 1611.1,716 1620.1,725 1647.1,729.5 1647.1,748.2 1598.2,748.2" fill="#bf281c" stroke="#bf281c"/>
<polygon points="1541.7,642.9 1570.6,646.2 1575.1,657.5 1561.5,671 1541.7,675.1" fill="#f5ac3a" stroke="#f5ac3a"/>
<polygon points="1533.9,623.7 1543.5,617 1561.5,614.7 1575.1,628.2 1561.5,627.1 1545.8,638.4 1533.9,638.4" fill="#f39a34" stroke="#f39a34"/>
<polygon points="1545.8,638.4 1561.5,627.1 1572.8,628.2 1584.1,640.6 1579.6,644 1550.3,644" fill="#821b15" stroke="#821b15"/>
</g>
<path d="M1519.9 760.7v-6M1519.9 420.3v6M1592.7 760.7v-6M1592.7 420.3v6M1665.4 760.7v-6M1665.4 420.3v6M1738.2 760.7v-6M1738.2 420.3v6M1811 760.7v-6M1811 420.3v6M1883.8 760.7v-6M1883.8 420.3v6M1476.2 505.4h6M1942 505.4h-6M1476.2 590.5h6M1942 590.5h-6M1476.2 675.6h6M1942 675.6h-6" stroke="#111" stroke-width="1.1" fill="none"/>
<rect x="1476.2" y="420.3" width="465.8" height="340.4" fill="none" stroke="#0a0a0a" stroke-width="2"/>
<text class="t" x="1519.9" y="780" text-anchor="middle">−5</text>
<text class="t" x="1592.7" y="780" text-anchor="middle">0</text>
<text class="t" x="1665.4" y="780" text-anchor="middle">5</text>
<text class="t" x="1738.2" y="780" text-anchor="middle">10</text>
<text class="t" x="1811" y="780" text-anchor="middle">15</text>
<text class="t" x="1883.8" y="780" text-anchor="middle">20</text>
<text class="t" x="1472.8" y="428.8" text-anchor="end">−20</text>
<text class="t" x="1472.8" y="513.9" text-anchor="end">−10</text>
<text class="t" x="1472.8" y="599" text-anchor="end">0</text>
<text class="t" x="1472.8" y="684.1" text-anchor="end">10</text>
<text class="t" x="1472.8" y="769.2" text-anchor="end">20</text>
<text class="s" x="1709.1" y="806.2" text-anchor="middle">X (kpc)</text>
<text class="s" transform="translate(1419.2 590.5) rotate(-90)" text-anchor="middle">Y (kpc)</text>
<rect x="1971" y="420.3" width="17.6" height="340.4" fill="url(#jet)" stroke="#111" stroke-width="1.4"/>
<text class="t" x="1991.1" y="428.6">100</text>
<text class="t" x="1991.1" y="496.7">80</text>
<text class="t" x="1991.1" y="564.8">60</text>
<text class="t" x="1991.1" y="632.8">40</text>
<text class="t" x="1991.1" y="700.9">20</text>
<text class="t" x="1991.1" y="769">0</text>
<path d="M1988.6 488.4h-5.5M1988.6 556.5h-5.5M1988.6 624.5h-5.5M1988.6 692.6h-5.5" stroke="#111" stroke-width="1" fill="none"/>
<text class="s" transform="translate(2057 590.5) rotate(-90)" text-anchor="middle"><tspan class="sig">σ</tspan><tspan class="subv" dy="6">V</tspan><tspan class="subsub" dy="4">ϕ</tspan><tspan dy="-10"> (km s</tspan><tspan class="sup" dy="-10">−1</tspan><tspan dy="10">)</tspan></text>
</g>
<g>
<clipPath id="c6"><polygon points="83.1,982.5 87.6,982.5 87.6,961.5 113.9,961.5 113.9,947.1 117.7,947.1 117.7,923.4 131.2,923.4 131.2,905.9 144.7,905.9 144.7,881.8 170.4,881.8 170.4,861.1 200.6,861.1 200.6,843.1 244,843.1 244,834.3 387.9,834.3 387.9,840.8 432,840.8 432,855.2 471.2,855.2 471.2,884.5 483.5,884.5 483.5,905.9 501.1,905.9 501.1,923.4 514.6,923.4 514.6,943.7 518.9,943.7 518.9,975.7 514.6,975.7 514.6,1000.9 527,1000.9 527,1033.1 514.6,1033.1 514.6,1050.7 487.6,1050.7 487.6,1062.4 475.2,1062.4 475.2,1075.9 471.2,1075.9 471.2,1101.3 444.8,1101.3 444.8,1115.9 414,1115.9 414,1130.3 383.6,1130.3 383.6,1151.7 327.1,1151.7 327.1,1144.5 300.8,1144.5 300.8,1162.5 244,1162.5 244,1157.1 200.6,1157.1 200.6,1124.9 175.1,1124.9 175.1,1101.3 161.4,1101.3 161.4,1083.3 144.7,1083.3 144.7,1047.3 135.7,1047.3 135.7,1033.1 109.8,1033.1 109.8,1015.1 83.1,1015.1"/></clipPath>
<g clip-path="url(#c6)" stroke-width="0.9" stroke-linejoin="round">
<polygon points="79,828 546,828 546,1171 79,1171" fill="#96fa8c" stroke="#96fa8c"/>
<polygon points="146.5,895.5 259.1,873 371.7,868.5 439.2,902.3 416.7,918 304.1,895.5 191.6,929.3 124,963.1" fill="#82fac5" filter="url(#b5)"/>
<polygon points="109.8,1007 281.6,1002.5 360.4,1043 349.1,1072.3 304.1,1083.5 236.6,1092.5 169,1070 109.8,1031.7" fill="#c3fa69" filter="url(#b5)"/>
<polygon points="301.9,879.8 360.4,879.8 378.4,906.8 409.9,940.6 412.2,1000 416.7,998 405.4,1031.7 371.7,1061 326.6,1072.3 337.9,1031.7 360.4,998 360.4,985.6 337.9,954.1 308.6,922.6" fill="#e2fa5b" filter="url(#b4)"/>
<polygon points="326.6,911.3 349.1,913.5 382.9,936.1 387.4,960.8 371.7,965.3 355.9,947.3 326.6,929.3" fill="#f8d044" filter="url(#b3)"/>
<ellipse cx="380.7" cy="1016" rx="20.3" ry="15.8" fill="#f9e148" filter="url(#b4)"/>
<polygon points="225.3,1065.5 281.6,1058.8 304.1,1074.5 270.4,1092.5 236.6,1088" fill="#eafa57" filter="url(#b4)"/>
<polygon points="304.1,1092.5 349.1,1083.5 405.4,1083.5 405.4,1101.5 337.9,1110.5 304.1,1110.5" fill="#78fae1" filter="url(#b4)"/>
<polygon points="119.5,974.3 191.6,972.1 259.1,967.6 274.9,983.3 236.6,1000 119.5,1002.5" fill="#76f8e4" filter="url(#b3)"/>
<polygon points="164.5,981.1 214.1,978.8 241.1,985.6 236.6,994.6 169,995.7" fill="#61cff5" filter="url(#b2_5)"/>
<polygon points="367.2,861.8 405.4,866.3 439.2,893.3 466.2,918 484.2,963.1 461.7,972.1 443.7,936.1 416.7,897.8 371.7,875.3" fill="#6eebed" filter="url(#b2_5)"/>
<polygon points="244,834.8 288.4,834.8 288.4,850.5 282.7,858.4 263.6,858.4 250.1,848.3" fill="#5dc6f7" stroke="#5dc6f7"/>
<polygon points="296.2,834.8 335.6,834.8 335.6,850.5 326.6,858.4 306.4,858.4 296.2,850.5" fill="#a3fa82" stroke="#a3fa82"/>
<polygon points="340.1,834.8 387.9,834.8 387.9,840.4 380.7,840.4 380.7,857.3 344.6,857.3 340.1,850.5" fill="#1e4ff9" stroke="#1e4ff9"/>
<polygon points="380.7,840.4 431.5,840.4 431.5,855 423.4,859.5 421.2,868.5 378.4,857.3" fill="#0618ef" stroke="#0618ef"/>
<polygon points="423.4,859.5 431.5,855 471.2,855 471.2,884.3 452.7,884.3 423.4,868.5" fill="#00007d" stroke="#00007d"/>
<polygon points="200.6,843.8 244,843.8 250.1,848.3 247.8,861.8 218.6,870.8 200.6,860.6" fill="#3274f8" stroke="#3274f8"/>
<polygon points="170.4,861.8 200.6,861.8 218.6,870.8 205.1,884.3 184.8,888.8 170.4,881.6" fill="#65d8f4" stroke="#65d8f4"/>
<polygon points="144.7,881.6 170.4,881.6 187.1,891 164.5,910.2 153.3,907.9 144.7,905" fill="#a3fa82" stroke="#a3fa82"/>
<polygon points="131.2,905 144.7,905 153.3,907.9 175.8,914.7 157.8,927.1 137.5,927.1 131.2,922.6" fill="#f9e94b" stroke="#f9e94b"/>
<polygon points="117.7,922.6 131.2,922.6 137.5,927.1 157.8,928.2 146.5,945.1 117.7,946.2" fill="#a3fa82" stroke="#a3fa82"/>
<polygon points="114.3,946.2 130.8,949.6 144.3,963.1 124,972.1 114.3,961.9" fill="#50abfa" stroke="#50abfa"/>
<polygon points="87.6,961.9 114.3,961.9 117.7,974.3 101.5,985.6 87.6,982.2" fill="#0618ef" stroke="#0618ef"/>
<polygon points="83.1,982.2 101.5,985.6 117.7,974.3 121.8,1000 121.8,998 108.3,1013.7 83.1,1013.7" fill="#5dc6f7" stroke="#5dc6f7"/>
<polygon points="439.2,893.3 452.7,884.3 483.5,884.3 483.5,905.7 461.7,913.5" fill="#3274f8" stroke="#3274f8"/>
<polygon points="461.7,913.5 483.5,905.7 501.1,905.7 501.1,922.6 491,928.2 475.2,929.3" fill="#0311ed" stroke="#0311ed"/>
<polygon points="475.2,929.3 491,928.2 501.1,922.6 514.6,922.6 514.6,945.1 484.2,949.6" fill="#6eebed" stroke="#6eebed"/>
<polygon points="427.9,929.3 450.5,942.8 466.2,942.8 484.2,958.6 461.7,958.6 443.7,945.1" fill="#0008df" filter="url(#b0_8)"/>
<polygon points="484.2,949.6 518.9,943.9 518.9,976.6 506.7,972.1 484.2,958.6" fill="#00007d" stroke="#00007d"/>
<polygon points="461.7,958.6 484.2,958.6 506.7,972.1 514.6,976.6 514.6,996.8 495.5,987.8 475.2,994.6" fill="#a3fa82" stroke="#a3fa82"/>
<polygon points="475.2,994.6 495.5,987.8 509,994.6 510.1,1002.5 493.2,1005.8 475.2,1003.6" fill="#f4a337" stroke="#f4a337"/>
<polygon points="461.7,978.8 470.7,978.8 470.7,985.6 461.7,985.6" fill="#377df8" filter="url(#b0_8)"/>
<polygon points="135.7,1031.7 146.5,1025 164.5,1023.9 171.3,1034 151,1046.4 135.7,1046.4" fill="#8c1c16" stroke="#8c1c16"/>
<polygon points="148.8,1052 157.8,1040.7 169,1036.2 178.1,1043 164.5,1053.1" fill="#0311ed" stroke="#0311ed"/>
<polygon points="144.7,1050.9 182.6,1054.2 196.1,1065.5 175.8,1074.5 161.4,1083.1 144.7,1083.1" fill="#c3fa69" stroke="#c3fa69"/>
<polygon points="161.4,1083.1 175.8,1074.5 196.1,1088 191.6,1097 175.1,1100.4 161.4,1100.4" fill="#faf24e" stroke="#faf24e"/>
<polygon points="175.1,1100.4 191.6,1097 218.6,1112.8 214.1,1124 175.1,1124" fill="#f8d044" stroke="#f8d044"/>
<polygon points="227.6,1108.3 245.6,1085.8 270.4,1088 259.1,1119.5 236.6,1121.8" fill="#f8d044" filter="url(#b1)"/>
<polygon points="200.6,1124 214.1,1124 225.3,1119.5 252.3,1128.5 250.1,1156.7 200.6,1156.7" fill="#eafa57" stroke="#eafa57"/>
<polygon points="244,1163 252.3,1133 263.6,1126.3 286.1,1126.3 296.2,1142 300.7,1144.3 300.7,1163" fill="#61cff5" stroke="#61cff5"/>
<polygon points="256.8,1133 268.1,1125.2 286.1,1125.2 295.1,1137.5 277.1,1135.3" fill="#418ff9" stroke="#418ff9"/>
<polygon points="296.2,1126.3 335.6,1124 335.6,1139.8 304.1,1144.3 296.2,1139.8" fill="#73f5e8" stroke="#73f5e8"/>
<polygon points="335.6,1115 367.2,1108.3 371.7,1124 383.6,1130.8 383.6,1142 366,1129.7 345.8,1130.8 335.6,1139.8" fill="#377df8" stroke="#377df8"/>
<polygon points="327.1,1151.1 327.1,1144.3 335.6,1139.8 345.8,1130.8 366,1129.7 383.6,1142 383.6,1151.1" fill="#1135f8" stroke="#1135f8"/>
<polygon points="369.4,1115 398.7,1108.3 414,1115 414,1129.7 383.6,1129.7 371.7,1124" fill="#73f5e8" stroke="#73f5e8"/>
<polygon points="367.2,1103.8 396.4,1094.8 396.4,1103.8 369.4,1112.8" fill="#0008df" stroke="#0008df"/>
<polygon points="400.9,1103.8 427.9,1091.4 444.8,1100.4 444.8,1115 414.9,1115" fill="#0008df" stroke="#0008df"/>
<polygon points="432.4,1088 450.5,1072.3 471.2,1075.6 471.2,1100.4 444.8,1100.4" fill="#61cff5" stroke="#61cff5"/>
<polygon points="418.9,1084.6 439.2,1072.3 452.7,1071.1 430.2,1088" fill="#00007d" stroke="#00007d"/>
<polygon points="414.4,1072.3 436.9,1068.9 427.9,1076.8 415.6,1079" fill="#f8c841" stroke="#f8c841"/>
<polygon points="430.2,1061 448.2,1054.2 475.2,1062.1 475.2,1076.8 452.7,1071.1 439.2,1070" fill="#dbfa5e" stroke="#dbfa5e"/>
<polygon points="397.6,1064.4 416.7,1056.5 427.9,1061 425.7,1067.8 400.9,1070" fill="#0b27f4" filter="url(#b0_8)"/>
<polygon points="380.7,1074.5 398.7,1070 398.7,1075.6 381.8,1079" fill="#5dc6f7" filter="url(#b0_8)"/>
<polygon points="450.5,1040.7 475.2,1038.5 487.6,1050.9 487.6,1062.1 475.2,1062.1 448.2,1052" fill="#377df8" stroke="#377df8"/>
<polygon points="475.2,1038.5 493.2,1023.9 514.6,1031.7 514.6,1050.4 487.6,1050.4" fill="#50abfa" stroke="#50abfa"/>
<polygon points="448.2,1027.2 479.7,1022.7 488.7,1027.2 461.7,1036.2 439.2,1043" fill="#eafa57" filter="url(#b1)"/>
<polygon points="450.5,1009.2 479.7,1004.7 493.2,1022.7 461.7,1025" fill="#73f5e8" filter="url(#b1_5)"/>
<polygon points="493.2,1002.5 527,1000.2 527,1031.7 514.6,1031.7 493.2,1022.7" fill="#00007d" stroke="#00007d"/>
<polygon points="425.7,1031.7 443.7,1029.5 439.2,1036.2 427.9,1040.7" fill="#0008df" filter="url(#b0_8)"/>
</g>
<path d="M122.9 1169.6v-6M122.9 829.2v6M195.7 1169.6v-6M195.7 829.2v6M268.4 1169.6v-6M268.4 829.2v6M341.2 1169.6v-6M341.2 829.2v6M414 1169.6v-6M414 829.2v6M486.8 1169.6v-6M486.8 829.2v6M79.2 914.3h6M545 914.3h-6M79.2 999.4h6M545 999.4h-6M79.2 1084.5h6M545 1084.5h-6" stroke="#111" stroke-width="1.1" fill="none"/>
<rect x="79.2" y="829.2" width="465.8" height="340.4" fill="none" stroke="#0a0a0a" stroke-width="2"/>
<text class="t" x="122.9" y="1188.9" text-anchor="middle">−5</text>
<text class="t" x="195.7" y="1188.9" text-anchor="middle">0</text>
<text class="t" x="268.4" y="1188.9" text-anchor="middle">5</text>
<text class="t" x="341.2" y="1188.9" text-anchor="middle">10</text>
<text class="t" x="414" y="1188.9" text-anchor="middle">15</text>
<text class="t" x="486.8" y="1188.9" text-anchor="middle">20</text>
<text class="t" x="75.8" y="837.7" text-anchor="end">−20</text>
<text class="t" x="75.8" y="922.8" text-anchor="end">−10</text>
<text class="t" x="75.8" y="1007.9" text-anchor="end">0</text>
<text class="t" x="75.8" y="1093" text-anchor="end">10</text>
<text class="t" x="75.8" y="1178.1" text-anchor="end">20</text>
<text class="s" x="312.1" y="1215.1" text-anchor="middle">X (kpc)</text>
<text class="s" transform="translate(22.2 999.4) rotate(-90)" text-anchor="middle">Y (kpc)</text>
<rect x="573.4" y="829.2" width="17.6" height="340.4" fill="url(#jet)" stroke="#111" stroke-width="1.4"/>
<text class="t" x="593.5" y="837.5">20</text>
<text class="t" x="593.5" y="922.6">10</text>
<text class="t" x="593.5" y="1007.7">0</text>
<text class="t" x="593.5" y="1092.8">−10</text>
<text class="t" x="593.5" y="1177.9">−20</text>
<path d="M591 914.3h-5.5M591 999.4h-5.5M591 1084.5h-5.5" stroke="#111" stroke-width="1" fill="none"/>
<text class="s" transform="translate(664.7 999.4) rotate(-90)" text-anchor="middle">V<tspan class="sub" dy="5">Z</tspan><tspan dy="-5"> (km s</tspan><tspan class="sup" dy="-10">−1</tspan><tspan dy="10">)</tspan></text>
</g>
<g>
<clipPath id="c7"><polygon points="781.6,982.5 786.1,982.5 786.1,961.5 812.4,961.5 812.4,947.1 816.2,947.1 816.2,923.4 829.7,923.4 829.7,905.9 843.2,905.9 843.2,881.8 868.9,881.8 868.9,861.1 899.1,861.1 899.1,843.1 942.5,843.1 942.5,834.3 1086.4,834.3 1086.4,840.8 1130.5,840.8 1130.5,855.2 1169.7,855.2 1169.7,884.5 1182,884.5 1182,905.9 1199.6,905.9 1199.6,923.4 1213.1,923.4 1213.1,943.7 1217.4,943.7 1217.4,975.7 1213.1,975.7 1213.1,1000.9 1225.5,1000.9 1225.5,1033.1 1213.1,1033.1 1213.1,1050.7 1186.1,1050.7 1186.1,1062.4 1173.7,1062.4 1173.7,1075.9 1169.7,1075.9 1169.7,1101.3 1143.3,1101.3 1143.3,1115.9 1112.5,1115.9 1112.5,1130.3 1082.1,1130.3 1082.1,1151.7 1025.6,1151.7 1025.6,1144.5 999.3,1144.5 999.3,1162.5 942.5,1162.5 942.5,1157.1 899.1,1157.1 899.1,1124.9 873.6,1124.9 873.6,1101.3 859.9,1101.3 859.9,1083.3 843.2,1083.3 843.2,1047.3 834.2,1047.3 834.2,1033.1 808.3,1033.1 808.3,1015.1 781.6,1015.1"/></clipPath>
<g clip-path="url(#c7)" stroke-width="0.9" stroke-linejoin="round">
<polygon points="777,828 1244,828 1244,1171 777,1171" fill="#82fac5" stroke="#82fac5"/>
<polygon points="817.5,985.6 833.3,949.6 853.5,924.8 889.6,891 912.1,870.8 957.1,857.3 993.1,859.5 1033.6,859.5 1067.4,877.5 1094.4,893.3 1123.7,915.8 1132.7,945.1 1164.2,985.6 1155.2,998 1141.7,1029.5 1107.9,1054.2 1096.7,1072.3 1060.7,1088 1033.6,1103.8 997.6,1115 957.1,1130.8 948.1,1142 912.1,1126.3 918.8,1115 887.3,1097 871.6,1056.5 844.5,1016 817.5,1000.2" fill="#50abfa" filter="url(#b1_5)"/>
<polygon points="822,985.6 842.3,949.6 860.3,927.1 898.6,895.5 921.1,877.5 957.1,861.8 993.1,864 1031.4,866.3 1062.9,884.3 1089.9,900 1114.7,920.3 1123.7,947.3 1155.2,985.6 1146.2,998 1132.7,1025 1101.2,1049.7 1087.7,1067.8 1056.2,1081.3 1029.1,1094.8 997.6,1106 961.6,1119.5 952.6,1130.8 916.6,1121.8 925.6,1115 894.1,1094.8 878.3,1054.2 849,1011.5 822,998" fill="#1e4ff9" filter="url(#b2_5)"/>
<polygon points="871.6,967.6 871.6,936.1 903.1,902.3 934.6,884.3 968.4,873 1002.1,873 1035.9,875.3 1065.2,893.3 1092.2,909 1110.2,927.1 1119.2,954.1 1137.2,990.1 1128.2,998 1114.7,1025 1092.2,1047.5 1058.4,1072.3 1024.6,1088 993.1,1097 961.6,1110.5 934.6,1115 903.1,1088 885.1,1052 871.6,1011.5" fill="#0311ed" filter="url(#b3)"/>
<polygon points="822,985.6 867,981.1 921.1,985.6 952.6,994.6 934.6,1001.3 822,1002.5" fill="#4699f9" filter="url(#b2_5)"/>
<polygon points="975.1,1000 979.6,940.6 1002.1,913.5 1047.1,909 1092.2,927.1 1110.2,963.1 1119.2,1000 1110.2,1011.5 1092.2,1038.5 1058.4,1056.5 1024.6,1065.5 979.6,1088 945.8,1092.5 934.6,1074.5 957.1,1043 970.6,1011.5" fill="#0007d4" filter="url(#b4)"/>
<polygon points="979.6,1000 990.9,972.1 1013.4,958.6 1047.1,963.1 1069.7,985.6 1065.2,1007 1047.1,1025 1013.4,1025 990.9,1011.5" fill="#0000a5" filter="url(#b5)"/>
<polygon points="782,982.2 799.5,987.8 813,1000 810.8,998 790.5,1013.7 782,1013.7" fill="#781914" stroke="#781914"/>
<polygon points="799.5,987.8 815.7,985.6 817.5,1000 813,1000" fill="#faf24e" stroke="#faf24e"/>
<polygon points="786.2,961.9 795,963.1 815.7,974.3 815.7,985.6 799.5,987.8 786.2,982.2" fill="#f1822f" stroke="#f1822f"/>
<polygon points="812.3,946.2 828.8,949.6 844.5,960.8 840,967.6 815.7,974.3 812.3,961.9" fill="#f6b63c" stroke="#f6b63c"/>
<polygon points="816.8,922.6 830.4,922.6 835.5,927.1 855.8,928.2 837.8,949.6 816.8,946.2" fill="#96fa8c" stroke="#96fa8c"/>
<polygon points="830.4,905 843.6,905 873.8,914.7 855.8,928.2 835.5,927.1 830.4,922.6" fill="#6eebed" stroke="#6eebed"/>
<polygon points="843.6,881.6 869.3,881.6 885.1,891 894.1,893.3 873.8,914.7 843.6,905" fill="#418ff9" stroke="#418ff9"/>
<polygon points="869.3,861.8 899.2,861.8 914.3,871.9 885.1,888.8 876.1,886.5 869.3,881.6" fill="#a9fa7d" stroke="#a9fa7d"/>
<polygon points="899.2,843.8 942.9,843.8 948.1,849.4 957.1,859.5 916.6,873 899.2,861.8" fill="#82fac5" stroke="#82fac5"/>
<polygon points="942.9,834.8 993.1,834.8 993.1,850.5 957.1,859.5 948.1,849.4" fill="#7bfad8" stroke="#7bfad8"/>
<polygon points="993.1,834.8 1035.9,834.8 1035.9,852.8 1031.4,861.8 993.1,861.8 993.1,850.5" fill="#78fae1" stroke="#78fae1"/>
<polygon points="1035.9,857.3 1078.7,859.5 1114.7,866.3 1150.7,884.3 1137.2,895.5 1159.7,918 1148.5,929.3 1123.7,902.3 1092.2,895.5 1065.2,879.8" fill="#85fabb" filter="url(#b1)"/>
<polygon points="1039.3,834.8 1086.1,834.8 1086.1,840.4 1078.7,840.4 1078.7,858.4 1043.8,858.4 1039.3,850.5" fill="#f1822f" stroke="#f1822f"/>
<polygon points="1082.5,840.4 1129.5,840.4 1129.5,855 1121.4,859.5 1114.7,866.3 1078.7,858.4" fill="#f6b63c" stroke="#f6b63c"/>
<polygon points="1121.4,859.5 1129.5,855 1168.7,855 1168.7,885.4 1150.7,884.3 1121.4,868.5" fill="#781914" stroke="#781914"/>
<polygon points="1137.2,895.5 1150.7,885.4 1182.2,885.4 1182.2,905.7 1159.7,913.5" fill="#cbfa65" stroke="#cbfa65"/>
<polygon points="1159.7,913.5 1182.2,905.7 1199.8,905.7 1199.8,922.6 1189,928.2 1173.2,929.3" fill="#faf24e" stroke="#faf24e"/>
<polygon points="1173.2,929.3 1189,928.2 1199.8,922.6 1212.2,922.6 1212.2,945.1 1182.2,949.6" fill="#eafa57" stroke="#eafa57"/>
<polygon points="1128.2,927.1 1159.7,918 1173.2,929.3 1182.2,949.6 1168.7,972.1 1159.7,985.6 1146.2,963.1" fill="#78fae1" filter="url(#b1_5)"/>
<polygon points="1146.2,940.6 1173.2,940.6 1182.2,954.1 1168.7,972.1 1148.5,958.6" fill="#a9fa7d" filter="url(#b1)"/>
<polygon points="1177.7,954.1 1216.9,943.9 1216.9,976.6 1204.7,974.3 1189,965.3" fill="#ee5e2a" stroke="#ee5e2a"/>
<polygon points="1173.2,974.3 1189,969.8 1204.7,974.3 1212.2,978.8 1212.2,996.8 1193.5,990.1" fill="#f7bf3e" stroke="#f7bf3e"/>
<polygon points="1159.7,981.1 1173.2,976.6 1193.5,990.1 1207,1000 1204.7,1000.2 1177.7,1002.5 1159.7,1011.5 1155.2,998" fill="#82fac5" stroke="#82fac5"/>
<polygon points="807.8,1007 822,1004.7 837.8,1013.7 817.5,1031.7 807.8,1031.7" fill="#8c1c16" stroke="#8c1c16"/>
<polygon points="817.5,1031.7 837.8,1013.7 844.5,1018.2 844.5,1025 834.9,1031.7" fill="#eafa57" stroke="#eafa57"/>
<polygon points="834.9,1031.7 844.5,1025 862.5,1022.7 871.6,1034 862.5,1035.1 846.8,1046.4 834.9,1046.4" fill="#f29132" stroke="#f29132"/>
<polygon points="846.8,1046.4 862.5,1035.1 873.8,1036.2 878.3,1043 867,1053.1 851.3,1053.1" fill="#8c1c16" stroke="#8c1c16"/>
<polygon points="843.6,1050.9 867,1054.2 882.8,1072.3 903.1,1090.3 889.6,1097 873.8,1100.4 860.3,1100.4 860.3,1083.1 843.6,1083.1" fill="#91fa99" stroke="#91fa99"/>
<polygon points="873.8,1100.4 889.6,1097 921.1,1115 912.1,1124 873.8,1124" fill="#6eebed" stroke="#6eebed"/>
<polygon points="899.2,1124 912.1,1124 921.1,1133 948.1,1137.5 948.1,1156.7 899.2,1156.7" fill="#50abfa" stroke="#50abfa"/>
<polygon points="942.9,1163 952.6,1133 961.6,1137.5 988.6,1138.7 999.9,1145.4 999.9,1163" fill="#f7bf3e" stroke="#f7bf3e"/>
<polygon points="952.6,1133 961.6,1126.3 993.1,1124 995.4,1142 988.6,1138.7 961.6,1137.5" fill="#7bfad8" stroke="#7bfad8"/>
<polygon points="995.4,1124 1024.6,1122.9 1034.8,1133 1025.8,1145.4 999.9,1145.4 995.4,1142" fill="#eafa57" stroke="#eafa57"/>
<polygon points="1034.8,1133 1065.2,1124 1082.5,1129.7 1082.5,1143.2 1064,1129.7 1043.8,1129.7" fill="#eafa57" stroke="#eafa57"/>
<polygon points="1025.8,1151.1 1025.8,1145.4 1034.8,1133 1043.8,1129.7 1064,1129.7 1082.5,1143.2 1082.5,1151.1" fill="#f4a337" stroke="#f4a337"/>
<polygon points="1002.1,1115 1065.2,1103.8 1067.4,1124 1024.6,1122.9 997.6,1124" fill="#73f5e8" filter="url(#b1_5)"/>
<polygon points="1065.2,1108.3 1096.7,1097 1125.9,1090.3 1142.8,1100.4 1142.8,1115 1112.9,1115 1112.9,1129.7 1082.5,1129.7 1065.2,1124" fill="#f2fa54" stroke="#f2fa54"/>
<polygon points="1096.7,1065.5 1137.2,1054.2 1173.2,1062.1 1173.2,1076.8 1146.2,1070 1114.7,1083.5 1096.7,1097 1065.2,1106 1069.7,1088" fill="#96fa8c" filter="url(#b1)"/>
<polygon points="1119.2,1083.5 1146.2,1071.1 1137.2,1081.3 1128.2,1088" fill="#f39a34" stroke="#f39a34"/>
<polygon points="1128.2,1088 1146.2,1071.1 1168.7,1076.8 1168.7,1100.4 1142.8,1100.4" fill="#e03725" stroke="#e03725"/>
<polygon points="1125.9,1036.2 1159.7,1011.5 1177.7,1002.5 1182.2,1011.5 1159.7,1036.2 1146.2,1052 1114.7,1056.5" fill="#78fae1" filter="url(#b1_5)"/>
<polygon points="1148.5,1049.7 1164.2,1038.5 1186.7,1050.4 1186.7,1062.1 1173.2,1062.1" fill="#f39a34" stroke="#f39a34"/>
<polygon points="1171,1020.5 1180,1011.5 1195.7,1004.7 1226.1,1000.2 1226.1,1031.7 1212.2,1031.7 1212.2,1050.4 1186.7,1050.4 1171,1036.2" fill="#781914" stroke="#781914"/>
</g>
<path d="M821.3 1169.6v-6M821.3 829.2v6M894.1 1169.6v-6M894.1 829.2v6M966.8 1169.6v-6M966.8 829.2v6M1039.6 1169.6v-6M1039.6 829.2v6M1112.4 1169.6v-6M1112.4 829.2v6M1185.2 1169.6v-6M1185.2 829.2v6M777.6 914.3h6M1243.4 914.3h-6M777.6 999.4h6M1243.4 999.4h-6M777.6 1084.5h6M1243.4 1084.5h-6" stroke="#111" stroke-width="1.1" fill="none"/>
<rect x="777.6" y="829.2" width="465.8" height="340.4" fill="none" stroke="#0a0a0a" stroke-width="2"/>
<text class="t" x="821.3" y="1188.9" text-anchor="middle">−5</text>
<text class="t" x="894.1" y="1188.9" text-anchor="middle">0</text>
<text class="t" x="966.8" y="1188.9" text-anchor="middle">5</text>
<text class="t" x="1039.6" y="1188.9" text-anchor="middle">10</text>
<text class="t" x="1112.4" y="1188.9" text-anchor="middle">15</text>
<text class="t" x="1185.2" y="1188.9" text-anchor="middle">20</text>
<text class="t" x="774.2" y="837.7" text-anchor="end">−20</text>
<text class="t" x="774.2" y="922.8" text-anchor="end">−10</text>
<text class="t" x="774.2" y="1007.9" text-anchor="end">0</text>
<text class="t" x="774.2" y="1093" text-anchor="end">10</text>
<text class="t" x="774.2" y="1178.1" text-anchor="end">20</text>
<text class="s" x="1010.5" y="1215.1" text-anchor="middle">X (kpc)</text>
<text class="s" transform="translate(720.6 999.4) rotate(-90)" text-anchor="middle">Y (kpc)</text>
<rect x="1272.2" y="829.2" width="17.6" height="340.4" fill="url(#jet)" stroke="#111" stroke-width="1.4"/>
<text class="t" x="1292.3" y="837.5">15.0</text>
<text class="t" x="1292.3" y="894.2">12.5</text>
<text class="t" x="1292.3" y="951">10.0</text>
<text class="t" x="1292.3" y="1007.7">7.5</text>
<text class="t" x="1292.3" y="1064.4">5.0</text>
<text class="t" x="1292.3" y="1121.2">2.5</text>
<text class="t" x="1292.3" y="1177.9">0.0</text>
<path d="M1289.8 885.9h-5.5M1289.8 942.7h-5.5M1289.8 999.4h-5.5M1289.8 1056.1h-5.5M1289.8 1112.9h-5.5" stroke="#111" stroke-width="1" fill="none"/>
<text class="s" transform="translate(1363.5 999.4) rotate(-90)" text-anchor="middle">V<tspan class="sub" dy="5">Zerr</tspan><tspan dy="-5"> (km s</tspan><tspan class="sup" dy="-10">−1</tspan><tspan dy="10">)</tspan></text>
</g>
<g>
<clipPath id="c8"><polygon points="1480.1,982.5 1484.6,982.5 1484.6,961.5 1510.9,961.5 1510.9,947.1 1514.7,947.1 1514.7,923.4 1528.2,923.4 1528.2,905.9 1541.7,905.9 1541.7,881.8 1567.4,881.8 1567.4,861.1 1597.6,861.1 1597.6,843.1 1641,843.1 1641,834.3 1784.9,834.3 1784.9,840.8 1829,840.8 1829,855.2 1868.2,855.2 1868.2,884.5 1880.5,884.5 1880.5,905.9 1898.1,905.9 1898.1,923.4 1911.6,923.4 1911.6,943.7 1915.9,943.7 1915.9,975.7 1911.6,975.7 1911.6,1000.9 1924,1000.9 1924,1033.1 1911.6,1033.1 1911.6,1050.7 1884.6,1050.7 1884.6,1062.4 1872.2,1062.4 1872.2,1075.9 1868.2,1075.9 1868.2,1101.3 1841.8,1101.3 1841.8,1115.9 1811,1115.9 1811,1130.3 1780.6,1130.3 1780.6,1151.7 1724.1,1151.7 1724.1,1144.5 1697.8,1144.5 1697.8,1162.5 1641,1162.5 1641,1157.1 1597.6,1157.1 1597.6,1124.9 1572.1,1124.9 1572.1,1101.3 1558.4,1101.3 1558.4,1083.3 1541.7,1083.3 1541.7,1047.3 1532.7,1047.3 1532.7,1033.1 1506.8,1033.1 1506.8,1015.1 1480.1,1015.1"/></clipPath>
<g clip-path="url(#c8)" stroke-width="0.9" stroke-linejoin="round">
<polygon points="1476,828 1943,828 1943,1171 1476,1171" fill="#a3fa82" stroke="#a3fa82"/>
<polygon points="1593.1,895.5 1647.1,866.3 1701.1,877.5 1768.7,888.8 1813.7,906.8 1858.7,918 1911.2,929.3 1911.2,945.1 1858.7,945.1 1791.2,918 1734.9,906.8 1701.1,904.5 1667.4,922.6 1633.6,927.1" fill="#dbfa5e" filter="url(#b4)"/>
<polygon points="1615.6,1076.8 1678.6,1065.5 1746.1,1072.3 1802.4,1065.5 1813.7,1088 1768.7,1106 1678.6,1115 1633.6,1099.3" fill="#cbfa65" filter="url(#b4)"/>
<polygon points="1584.1,918 1602.1,902.3 1633.6,922.6 1656.1,949.6 1669.6,1000 1667.4,998 1660.6,1031.7 1647.1,1065.5 1633.6,1092.5 1660.6,1115 1633.6,1124 1611.1,1106 1615.6,1065.5 1633.6,1000 1620.1,963.1" fill="#fafa50" filter="url(#b3)"/>
<polygon points="1701.1,945.1 1734.9,922.6 1768.7,924.8 1802.4,945.1 1836.2,963.1 1858.7,1000 1847.5,1009.2 1827.2,1043 1791.2,1056.5 1746.1,1065.5 1712.4,1061 1701.1,1031.7 1692.1,998 1687.6,974.3" fill="#7eface" filter="url(#b4)"/>
<polygon points="1701.1,985.6 1723.6,967.6 1768.7,963.1 1802.4,981.1 1813.7,1000 1809.2,1011.5 1779.9,1036.2 1746.1,1043 1719.1,1038.5 1705.6,1011.5" fill="#6eebed" filter="url(#b4)"/>
<ellipse cx="1750.7" cy="1001.3" rx="51.8" ry="27" fill="#5dc6f7" filter="url(#b5)"/>
<polygon points="1529.4,905 1572.8,914.7 1602.1,929.3 1633.6,954.1 1656.1,981.1 1667.4,1000 1665.1,998 1656.1,1025 1633.6,1043 1611.1,1063.3 1602.1,1088 1572.8,1100.4 1542.6,1050.9 1498.5,1000" fill="#f39a34" filter="url(#b2_5)"/>
<polygon points="1529.4,905 1542.6,905 1566,918 1593.1,933.8 1620.1,949.6 1638.1,963.1 1656.1,985.6 1661.7,1000 1659.5,998 1651.6,1020.5 1620.1,1038.5 1593.1,1045.2 1575.1,1049.7 1570.6,1034 1498.5,1000" fill="#e03725" filter="url(#b2)"/>
<polygon points="1481,982.2 1485.2,982.2 1485.2,961.9 1511.3,961.9 1511.3,946.2 1515.8,946.2 1515.8,922.6 1529.4,922.6 1543.5,929.3 1570.6,940.6 1602.1,954.1 1624.6,967.6 1642.6,985.6 1651.6,1000 1651.6,998 1642.6,1011.5 1602.1,1027.2 1570.6,1034 1563.8,1027.2 1543.5,1025 1533.9,1031.7 1506.8,1031.7 1506.8,1013.7 1481,1013.7" fill="#781914" filter="url(#b1)"/>
<polygon points="1542.6,881.6 1568.3,881.6 1584.1,891 1595.3,895.5 1597.6,906.8 1577.3,918 1542.6,905" fill="#f29132" stroke="#f29132"/>
<polygon points="1568.3,861.8 1598.2,861.8 1613.3,871.9 1584.1,888.8 1575.1,886.5 1568.3,881.6" fill="#78fae1" stroke="#78fae1"/>
<polygon points="1598.2,843.8 1641.9,843.8 1647.1,849.4 1647.1,864 1620.1,870.8 1613.3,871.9 1598.2,861.8" fill="#f6b63c" stroke="#f6b63c"/>
<polygon points="1641.9,834.8 1689.9,834.8 1689.9,850.5 1679.7,858.4 1659.5,858.4 1647.1,849.4" fill="#f6b63c" stroke="#f6b63c"/>
<polygon points="1693.2,834.8 1734.9,834.8 1734.9,852.8 1728.1,873 1701.1,877.5 1693.2,861.8" fill="#fafa50" stroke="#fafa50"/>
<polygon points="1620.1,870.8 1647.1,864 1659.5,858.4 1679.7,858.4 1689.9,855 1692.1,882 1662.9,891 1633.6,879.8" fill="#f9e94b" filter="url(#b1)"/>
<polygon points="1734.9,834.8 1785.1,834.8 1785.1,840.4 1777.7,840.4 1773.2,859.5 1768.7,875.3 1741.6,868.5 1732.6,857.3" fill="#f1822f" stroke="#f1822f"/>
<polygon points="1777.7,840.4 1828.5,840.4 1828.5,855 1820.4,859.5 1813.7,870.8 1791.2,875.3 1773.2,859.5" fill="#fafa50" stroke="#fafa50"/>
<polygon points="1820.4,859.5 1828.5,855 1867.7,855 1867.7,885.4 1849.7,884.3 1820.4,868.5" fill="#781914" stroke="#781914"/>
<polygon points="1768.7,877.5 1800.2,880.9 1795.7,893.3 1768.7,888.8" fill="#f8c841" stroke="#f8c841"/>
<polygon points="1800.2,880.9 1813.7,882 1833.9,889.9 1832.8,898.9 1822.7,898.9 1800.2,891" fill="#bf281c" stroke="#bf281c"/>
<polygon points="1795.7,893.3 1822.7,900 1845.2,906.8 1856.5,915.8 1845.2,915.8 1813.7,906.8 1795.7,900" fill="#f1822f" stroke="#f1822f"/>
<polygon points="1836.2,893.3 1849.7,885.4 1881.2,885.4 1881.2,905.7 1858.7,913.5" fill="#a9fa7d" stroke="#a9fa7d"/>
<polygon points="1858.7,913.5 1881.2,905.7 1898.8,905.7 1898.8,922.6 1888,928.2 1872.2,929.3" fill="#f2fa54" stroke="#f2fa54"/>
<polygon points="1872.2,929.3 1888,928.2 1898.8,922.6 1911.2,922.6 1911.2,945.1 1881.2,949.6" fill="#cbfa65" stroke="#cbfa65"/>
<polygon points="1876.7,954.1 1915.9,943.9 1915.9,976.6 1903.7,972.1 1888,963.1" fill="#73f5e8" stroke="#73f5e8"/>
<polygon points="1856.5,960.8 1872.2,955.2 1888,965.3 1911.2,976.6 1911.2,996.8 1892.5,990.1 1872.2,976.6" fill="#ef732d" stroke="#ef732d"/>
<polygon points="1858.7,978.8 1867.7,978.8 1867.7,985.6 1858.7,985.6" fill="#f4a337" filter="url(#b0_8)"/>
<polygon points="1818.2,972.1 1827.2,972.1 1827.2,978.8 1818.2,978.8" fill="#f6b63c" filter="url(#b0_8)"/>
<polygon points="1532.3,1031.7 1543.5,1025 1561.5,1023.9 1568.3,1034 1548,1046.4 1532.3,1046.4" fill="#a9fa7d" stroke="#a9fa7d"/>
<polygon points="1542.6,1050.9 1566,1043 1584.1,1054.2 1593.1,1065.5 1575.1,1074.5 1559.3,1083.1 1542.6,1083.1" fill="#f29132" stroke="#f29132"/>
<polygon points="1566,1043 1584.1,1036.2 1602.1,1027.2 1642.6,1011.5 1656.1,1020.5 1620.1,1043 1602.1,1061 1584.1,1054.2" fill="#e03725" filter="url(#b1_5)"/>
<polygon points="1559.3,1083.1 1572.8,1074.5 1584.1,1081.3 1602.1,1090.3 1588.6,1097 1572.8,1100.4 1559.3,1100.4" fill="#781914" stroke="#781914"/>
<polygon points="1572.8,1100.4 1588.6,1097 1602.1,1090.3 1620.1,1110.5 1611.1,1124 1572.8,1124" fill="#bf281c" stroke="#bf281c"/>
<polygon points="1598.2,1124 1611.1,1124 1620.1,1115 1651.6,1124 1651.6,1133 1647.1,1156.7 1598.2,1156.7" fill="#f7bf3e" stroke="#f7bf3e"/>
<polygon points="1656.1,1126.3 1687.6,1124 1694.4,1139.8 1687.6,1138.7 1660.6,1137.5" fill="#f6b63c" stroke="#f6b63c"/>
<polygon points="1641.9,1163 1647.1,1142 1651.6,1133 1660.6,1137.5 1687.6,1138.7 1697.7,1144.3 1697.7,1163" fill="#781914" stroke="#781914"/>
<polygon points="1694.4,1119.5 1732.6,1124 1741.6,1130.8 1724.8,1144.3 1697.7,1144.3 1694.4,1139.8" fill="#cbfa65" stroke="#cbfa65"/>
<polygon points="1741.6,1127.4 1764.2,1124 1781.5,1130.8 1781.5,1143.2 1763,1129.7 1742.8,1130.8" fill="#d3fa62" stroke="#d3fa62"/>
<polygon points="1724.8,1151.1 1724.8,1144.3 1732.6,1138.7 1742.8,1130.8 1763,1129.7 1781.5,1143.2 1781.5,1151.1" fill="#96fa8c" stroke="#96fa8c"/>
<polygon points="1741.6,1121.8 1764.2,1115 1768.7,1124 1743.9,1127.4" fill="#f29132" stroke="#f29132"/>
<polygon points="1766.4,1115 1795.7,1108.3 1811.9,1115 1811.9,1129.7 1781.5,1129.7 1768.7,1124" fill="#f9e94b" stroke="#f9e94b"/>
<polygon points="1764.2,1106 1791.2,1088 1813.7,1079 1831.7,1068.9 1836.2,1072.3 1818.2,1088 1795.7,1103.8 1766.4,1112.8" fill="#f4a337" filter="url(#b1)"/>
<polygon points="1797.9,1103.8 1824.9,1091.4 1841.8,1100.4 1841.8,1115 1811.9,1115" fill="#73f5e8" stroke="#73f5e8"/>
<polygon points="1818.2,1088 1845.2,1071.1 1867.7,1076.8 1867.7,1100.4 1841.8,1100.4 1824.9,1091.4" fill="#f2fa54" stroke="#f2fa54"/>
<polygon points="1833.9,1063.3 1849.7,1054.2 1872.2,1062.1 1872.2,1076.8 1845.2,1070" fill="#73f5e8" stroke="#73f5e8"/>
<polygon points="1847.5,1049.7 1863.2,1038.5 1885.7,1050.4 1885.7,1062.1 1872.2,1062.1" fill="#c3fa69" stroke="#c3fa69"/>
<polygon points="1867.7,1027.2 1890.2,1022.7 1911.2,1031.7 1911.2,1050.4 1885.7,1050.4 1872.2,1038.5" fill="#e03725" stroke="#e03725"/>
<polygon points="1890.2,1011.5 1903.7,1002.5 1925.1,1000.2 1925.1,1031.7 1911.2,1031.7 1890.2,1020.5" fill="#fafa50" stroke="#fafa50"/>
<polygon points="1876.7,1011.5 1888,1009.2 1890.2,1020.5 1879,1020.5" fill="#8c1c16" stroke="#8c1c16"/>
<polygon points="1833.9,1004.7 1845.2,1004.7 1845.2,1014.9 1833.9,1014.9" fill="#f6b63c" filter="url(#b1)"/>
<polygon points="1804.7,1049.7 1818.2,1038.5 1824.9,1043 1811.4,1054.2" fill="#f9e94b" filter="url(#b1_5)"/>
</g>
<path d="M1519.9 1169.6v-6M1519.9 829.2v6M1592.7 1169.6v-6M1592.7 829.2v6M1665.4 1169.6v-6M1665.4 829.2v6M1738.2 1169.6v-6M1738.2 829.2v6M1811 1169.6v-6M1811 829.2v6M1883.8 1169.6v-6M1883.8 829.2v6M1476.2 914.3h6M1942 914.3h-6M1476.2 999.4h6M1942 999.4h-6M1476.2 1084.5h6M1942 1084.5h-6" stroke="#111" stroke-width="1.1" fill="none"/>
<rect x="1476.2" y="829.2" width="465.8" height="340.4" fill="none" stroke="#0a0a0a" stroke-width="2"/>
<text class="t" x="1519.9" y="1188.9" text-anchor="middle">−5</text>
<text class="t" x="1592.7" y="1188.9" text-anchor="middle">0</text>
<text class="t" x="1665.4" y="1188.9" text-anchor="middle">5</text>
<text class="t" x="1738.2" y="1188.9" text-anchor="middle">10</text>
<text class="t" x="1811" y="1188.9" text-anchor="middle">15</text>
<text class="t" x="1883.8" y="1188.9" text-anchor="middle">20</text>
<text class="t" x="1472.8" y="837.7" text-anchor="end">−20</text>
<text class="t" x="1472.8" y="922.8" text-anchor="end">−10</text>
<text class="t" x="1472.8" y="1007.9" text-anchor="end">0</text>
<text class="t" x="1472.8" y="1093" text-anchor="end">10</text>
<text class="t" x="1472.8" y="1178.1" text-anchor="end">20</text>
<text class="s" x="1709.1" y="1215.1" text-anchor="middle">X (kpc)</text>
<text class="s" transform="translate(1419.2 999.4) rotate(-90)" text-anchor="middle">Y (kpc)</text>
<rect x="1971" y="829.2" width="17.6" height="340.4" fill="url(#jet)" stroke="#111" stroke-width="1.4"/>
<text class="t" x="1991.1" y="837.5">50</text>
<text class="t" x="1991.1" y="905.6">40</text>
<text class="t" x="1991.1" y="973.7">30</text>
<text class="t" x="1991.1" y="1041.7">20</text>
<text class="t" x="1991.1" y="1109.8">10</text>
<text class="t" x="1991.1" y="1177.9">0</text>
<path d="M1988.6 897.3h-5.5M1988.6 965.4h-5.5M1988.6 1033.4h-5.5M1988.6 1101.5h-5.5" stroke="#111" stroke-width="1" fill="none"/>
<text class="s" transform="translate(2043.5 999.4) rotate(-90)" text-anchor="middle"><tspan class="sig">σ</tspan><tspan class="subv" dy="6">V</tspan><tspan class="subsub" dy="4">Z</tspan><tspan dy="-10"> (km s</tspan><tspan class="sup" dy="-10">−1</tspan><tspan dy="10">)</tspan></text>
</g>
</svg>
</body></html>
